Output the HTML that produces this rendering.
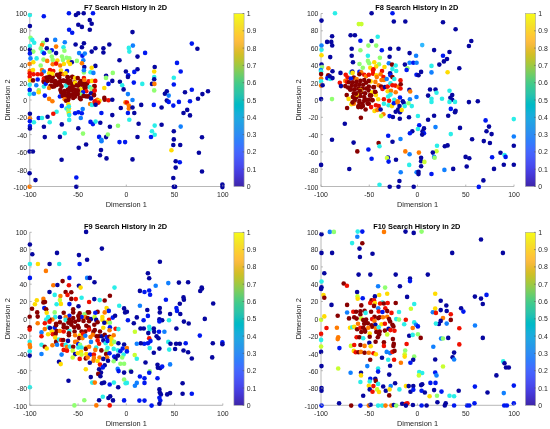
<!DOCTYPE html><html><head><meta charset="utf-8"><style>html,body{margin:0;padding:0;background:#fff;}svg{display:block;}text{font-family:"Liberation Sans",Arial,sans-serif;}</style></head><body>
<svg width="550" height="429" viewBox="0 0 550 429">
<defs><linearGradient id="par" x1="0" y1="1" x2="0" y2="0">
<stop offset="0.0000" stop-color="#3e26a8"/>
<stop offset="0.0159" stop-color="#402ab4"/>
<stop offset="0.0317" stop-color="#422ec0"/>
<stop offset="0.0476" stop-color="#4332cb"/>
<stop offset="0.0635" stop-color="#4537d5"/>
<stop offset="0.0794" stop-color="#463cde"/>
<stop offset="0.0952" stop-color="#4741e5"/>
<stop offset="0.1111" stop-color="#4747eb"/>
<stop offset="0.1270" stop-color="#484df0"/>
<stop offset="0.1429" stop-color="#4852f4"/>
<stop offset="0.1587" stop-color="#4758f8"/>
<stop offset="0.1746" stop-color="#465efb"/>
<stop offset="0.1905" stop-color="#4563fd"/>
<stop offset="0.2063" stop-color="#4269fe"/>
<stop offset="0.2222" stop-color="#3e6fff"/>
<stop offset="0.2381" stop-color="#3875fe"/>
<stop offset="0.2540" stop-color="#327cfc"/>
<stop offset="0.2698" stop-color="#2f81fa"/>
<stop offset="0.2857" stop-color="#2e87f7"/>
<stop offset="0.3016" stop-color="#2d8cf3"/>
<stop offset="0.3175" stop-color="#2b91ef"/>
<stop offset="0.3333" stop-color="#2797eb"/>
<stop offset="0.3492" stop-color="#259be8"/>
<stop offset="0.3651" stop-color="#23a0e5"/>
<stop offset="0.3810" stop-color="#20a5e3"/>
<stop offset="0.3968" stop-color="#1ca9df"/>
<stop offset="0.4127" stop-color="#18addb"/>
<stop offset="0.4286" stop-color="#12b1d6"/>
<stop offset="0.4444" stop-color="#08b5d0"/>
<stop offset="0.4603" stop-color="#01b8ca"/>
<stop offset="0.4762" stop-color="#02bac3"/>
<stop offset="0.4921" stop-color="#0bbdbd"/>
<stop offset="0.5079" stop-color="#19bfb6"/>
<stop offset="0.5238" stop-color="#24c1ae"/>
<stop offset="0.5397" stop-color="#2cc4a7"/>
<stop offset="0.5556" stop-color="#31c69f"/>
<stop offset="0.5714" stop-color="#37c897"/>
<stop offset="0.5873" stop-color="#3fca8e"/>
<stop offset="0.6032" stop-color="#4acb84"/>
<stop offset="0.6190" stop-color="#57cc7a"/>
<stop offset="0.6349" stop-color="#64cd6f"/>
<stop offset="0.6508" stop-color="#72cd64"/>
<stop offset="0.6667" stop-color="#81cc59"/>
<stop offset="0.6825" stop-color="#8fcb4e"/>
<stop offset="0.6984" stop-color="#9dc943"/>
<stop offset="0.7143" stop-color="#abc739"/>
<stop offset="0.7302" stop-color="#b9c431"/>
<stop offset="0.7460" stop-color="#c5c22a"/>
<stop offset="0.7619" stop-color="#d1bf27"/>
<stop offset="0.7778" stop-color="#dcbd29"/>
<stop offset="0.7937" stop-color="#e6bb2d"/>
<stop offset="0.8095" stop-color="#f0ba36"/>
<stop offset="0.8254" stop-color="#f8ba3d"/>
<stop offset="0.8413" stop-color="#febe3c"/>
<stop offset="0.8571" stop-color="#fec338"/>
<stop offset="0.8730" stop-color="#fec934"/>
<stop offset="0.8889" stop-color="#fccf30"/>
<stop offset="0.9048" stop-color="#fad62d"/>
<stop offset="0.9206" stop-color="#f7dc2a"/>
<stop offset="0.9365" stop-color="#f5e327"/>
<stop offset="0.9524" stop-color="#f5e924"/>
<stop offset="0.9683" stop-color="#f6ef20"/>
<stop offset="0.9841" stop-color="#f7f51b"/>
<stop offset="1.0000" stop-color="#f9fb15"/>
</linearGradient></defs>
<rect width="550" height="429" fill="#fff"/>
<path d="M29.80 13.50V186.50H222.80" fill="none" stroke="#a6a6a6" stroke-width="0.8"/>
<g><circle cx="44.7" cy="78.2" r="2.3" fill="#880000"/><circle cx="48.7" cy="77.6" r="2.3" fill="#880000"/><circle cx="52.8" cy="77.1" r="2.3" fill="#880000"/><circle cx="57.5" cy="75.3" r="2.3" fill="#880000"/><circle cx="60.9" cy="74.1" r="2.3" fill="#880000"/><circle cx="59.2" cy="77.6" r="2.3" fill="#880000"/><circle cx="67.9" cy="77.6" r="2.3" fill="#880000"/><circle cx="72.6" cy="77.1" r="2.3" fill="#880000"/><circle cx="47.0" cy="81.1" r="2.3" fill="#880000"/><circle cx="51.6" cy="81.1" r="2.3" fill="#880000"/><circle cx="55.1" cy="81.1" r="2.3" fill="#880000"/><circle cx="58.6" cy="82.3" r="2.3" fill="#880000"/><circle cx="63.3" cy="80.5" r="2.3" fill="#880000"/><circle cx="66.8" cy="81.1" r="2.3" fill="#880000"/><circle cx="70.3" cy="81.1" r="2.3" fill="#880000"/><circle cx="74.9" cy="82.3" r="2.3" fill="#880000"/><circle cx="80.7" cy="81.1" r="2.3" fill="#880000"/><circle cx="84.2" cy="83.5" r="2.3" fill="#880000"/><circle cx="86.5" cy="83.5" r="2.3" fill="#880000"/><circle cx="43.5" cy="81.1" r="2.3" fill="#f01000"/><circle cx="50.5" cy="85.8" r="2.3" fill="#880000"/><circle cx="54.0" cy="86.4" r="2.3" fill="#880000"/><circle cx="57.5" cy="84.6" r="2.3" fill="#880000"/><circle cx="61.5" cy="86.4" r="2.3" fill="#880000"/><circle cx="66.8" cy="84.6" r="2.3" fill="#880000"/><circle cx="69.7" cy="87.5" r="2.3" fill="#880000"/><circle cx="73.7" cy="85.8" r="2.3" fill="#880000"/><circle cx="78.4" cy="85.8" r="2.3" fill="#880000"/><circle cx="81.9" cy="84.6" r="2.3" fill="#880000"/><circle cx="86.0" cy="86.4" r="2.3" fill="#880000"/><circle cx="94.7" cy="86.4" r="2.3" fill="#f01000"/><circle cx="60.4" cy="89.9" r="2.3" fill="#880000"/><circle cx="64.4" cy="91.0" r="2.3" fill="#880000"/><circle cx="67.9" cy="89.3" r="2.3" fill="#880000"/><circle cx="71.4" cy="90.4" r="2.3" fill="#880000"/><circle cx="74.9" cy="89.9" r="2.3" fill="#880000"/><circle cx="78.4" cy="92.2" r="2.3" fill="#880000"/><circle cx="84.2" cy="88.1" r="2.3" fill="#880000"/><circle cx="62.1" cy="93.3" r="2.3" fill="#880000"/><circle cx="65.0" cy="95.1" r="2.3" fill="#880000"/><circle cx="68.5" cy="93.9" r="2.3" fill="#880000"/><circle cx="72.6" cy="94.5" r="2.3" fill="#880000"/><circle cx="77.2" cy="93.9" r="2.3" fill="#880000"/><circle cx="81.3" cy="95.7" r="2.3" fill="#880000"/><circle cx="85.4" cy="96.3" r="2.3" fill="#880000"/><circle cx="88.3" cy="96.3" r="2.3" fill="#880000"/><circle cx="80.7" cy="99.2" r="2.3" fill="#880000"/><circle cx="74.9" cy="96.8" r="2.3" fill="#880000"/><circle cx="69.1" cy="96.8" r="2.3" fill="#880000"/><circle cx="65.0" cy="96.8" r="2.3" fill="#880000"/><circle cx="67.9" cy="100.3" r="2.3" fill="#880000"/><circle cx="94.1" cy="95.1" r="2.3" fill="#880000"/><circle cx="94.7" cy="90.4" r="2.3" fill="#f01000"/><circle cx="95.3" cy="102.1" r="2.3" fill="#f01000"/><circle cx="98.2" cy="102.1" r="2.3" fill="#f01000"/><circle cx="29.9" cy="15.0" r="2.3" fill="#2aeee8"/><circle cx="43.8" cy="16.3" r="2.3" fill="#0018f0"/><circle cx="68.9" cy="13.2" r="2.3" fill="#0018f0"/><circle cx="75.9" cy="15.0" r="2.3" fill="#0606a0"/><circle cx="78.2" cy="13.2" r="2.3" fill="#0606a0"/><circle cx="83.7" cy="13.2" r="2.3" fill="#0606a0"/><circle cx="93.0" cy="13.2" r="2.3" fill="#0018f0"/><circle cx="89.8" cy="20.1" r="2.3" fill="#0606a0"/><circle cx="91.7" cy="23.8" r="2.3" fill="#0606a0"/><circle cx="78.3" cy="24.7" r="2.3" fill="#0606a0"/><circle cx="81.9" cy="26.9" r="2.3" fill="#0606a0"/><circle cx="29.9" cy="26.0" r="2.3" fill="#0606a0"/><circle cx="69.1" cy="29.7" r="2.3" fill="#0018f0"/><circle cx="72.2" cy="32.7" r="2.3" fill="#0018f0"/><circle cx="89.8" cy="29.7" r="2.3" fill="#0606a0"/><circle cx="30.5" cy="37.7" r="2.3" fill="#90ff70"/><circle cx="32.3" cy="39.9" r="2.3" fill="#2aeee8"/><circle cx="34.2" cy="42.7" r="2.3" fill="#2aeee8"/><circle cx="46.8" cy="39.9" r="2.3" fill="#0606a0"/><circle cx="55.2" cy="39.9" r="2.3" fill="#1080ff"/><circle cx="64.8" cy="42.3" r="2.3" fill="#1080ff"/><circle cx="43.1" cy="42.9" r="2.3" fill="#90ff70"/><circle cx="42.0" cy="45.1" r="2.3" fill="#ff7a00"/><circle cx="56.1" cy="46.6" r="2.3" fill="#ff7a00"/><circle cx="75.6" cy="44.5" r="2.3" fill="#0606a0"/><circle cx="83.9" cy="43.2" r="2.3" fill="#0606a0"/><circle cx="81.9" cy="47.3" r="2.3" fill="#0606a0"/><circle cx="109.3" cy="44.5" r="2.3" fill="#0606a0"/><circle cx="95.4" cy="48.2" r="2.3" fill="#0606a0"/><circle cx="103.4" cy="48.2" r="2.3" fill="#0606a0"/><circle cx="91.7" cy="51.6" r="2.3" fill="#0606a0"/><circle cx="103.4" cy="52.5" r="2.3" fill="#0606a0"/><circle cx="29.9" cy="46.0" r="2.3" fill="#2aeee8"/><circle cx="29.9" cy="49.7" r="2.3" fill="#0606a0"/><circle cx="40.7" cy="48.4" r="2.3" fill="#90ff70"/><circle cx="46.8" cy="48.2" r="2.3" fill="#0606a0"/><circle cx="51.8" cy="50.3" r="2.3" fill="#0018f0"/><circle cx="63.5" cy="47.3" r="2.3" fill="#2aeee8"/><circle cx="64.4" cy="50.7" r="2.3" fill="#90ff70"/><circle cx="42.5" cy="52.0" r="2.3" fill="#2aeee8"/><circle cx="44.0" cy="53.3" r="2.3" fill="#0018f0"/><circle cx="49.6" cy="51.8" r="2.3" fill="#90ff70"/><circle cx="56.1" cy="53.1" r="2.3" fill="#0606a0"/><circle cx="33.3" cy="51.6" r="2.3" fill="#90ff70"/><circle cx="29.9" cy="53.4" r="2.3" fill="#0018f0"/><circle cx="79.1" cy="53.1" r="2.3" fill="#1080ff"/><circle cx="82.4" cy="55.8" r="2.3" fill="#0018f0"/><circle cx="84.8" cy="53.6" r="2.3" fill="#1080ff"/><circle cx="30.5" cy="58.4" r="2.3" fill="#1080ff"/><circle cx="36.6" cy="58.4" r="2.3" fill="#2aeee8"/><circle cx="51.8" cy="56.6" r="2.3" fill="#90ff70"/><circle cx="62.0" cy="56.6" r="2.3" fill="#90ff70"/><circle cx="66.7" cy="57.7" r="2.3" fill="#90ff70"/><circle cx="69.4" cy="58.4" r="2.3" fill="#90ff70"/><circle cx="43.5" cy="59.6" r="2.3" fill="#90ff70"/><circle cx="47.2" cy="60.9" r="2.3" fill="#ff7a00"/><circle cx="52.7" cy="59.9" r="2.3" fill="#90ff70"/><circle cx="57.4" cy="60.5" r="2.3" fill="#ffdc00"/><circle cx="62.9" cy="59.9" r="2.3" fill="#90ff70"/><circle cx="68.5" cy="61.8" r="2.3" fill="#ffdc00"/><circle cx="71.8" cy="62.2" r="2.3" fill="#0606a0"/><circle cx="76.9" cy="60.9" r="2.3" fill="#90ff70"/><circle cx="83.3" cy="60.3" r="2.3" fill="#1080ff"/><circle cx="119.5" cy="60.3" r="2.3" fill="#0606a0"/><circle cx="33.3" cy="62.2" r="2.3" fill="#ffdc00"/><circle cx="29.6" cy="64.0" r="2.3" fill="#ff7a00"/><circle cx="40.7" cy="65.5" r="2.3" fill="#90ff70"/><circle cx="52.7" cy="64.2" r="2.3" fill="#ff7a00"/><circle cx="56.1" cy="63.6" r="2.3" fill="#f01000"/><circle cx="60.2" cy="65.5" r="2.3" fill="#ff7a00"/><circle cx="63.9" cy="64.0" r="2.3" fill="#ffdc00"/><circle cx="70.0" cy="64.0" r="2.3" fill="#ffdc00"/><circle cx="81.9" cy="63.3" r="2.3" fill="#ff7a00"/><circle cx="84.3" cy="67.0" r="2.3" fill="#0606a0"/><circle cx="95.4" cy="65.9" r="2.3" fill="#0606a0"/><circle cx="91.7" cy="67.7" r="2.3" fill="#ffdc00"/><circle cx="132.5" cy="32.1" r="2.3" fill="#0606a0"/><circle cx="132.9" cy="45.6" r="2.3" fill="#1080ff"/><circle cx="128.8" cy="47.9" r="2.3" fill="#2aeee8"/><circle cx="129.3" cy="51.6" r="2.3" fill="#2aeee8"/><circle cx="145.1" cy="52.9" r="2.3" fill="#0018f0"/><circle cx="137.5" cy="56.6" r="2.3" fill="#0606a0"/><circle cx="191.8" cy="43.6" r="2.3" fill="#0018f0"/><circle cx="197.4" cy="48.8" r="2.3" fill="#0606a0"/><circle cx="177.0" cy="62.9" r="2.3" fill="#0018f0"/><circle cx="154.7" cy="67.0" r="2.3" fill="#0606a0"/><circle cx="137.5" cy="69.2" r="2.3" fill="#0606a0"/><circle cx="29.7" cy="71.0" r="2.3" fill="#ff7a00"/><circle cx="33.0" cy="70.0" r="2.3" fill="#ffdc00"/><circle cx="42.0" cy="70.0" r="2.3" fill="#ff7a00"/><circle cx="43.9" cy="71.5" r="2.3" fill="#1080ff"/><circle cx="50.0" cy="70.0" r="2.3" fill="#f01000"/><circle cx="53.3" cy="71.0" r="2.3" fill="#f01000"/><circle cx="49.1" cy="73.3" r="2.3" fill="#ffdc00"/><circle cx="52.4" cy="73.8" r="2.3" fill="#ffdc00"/><circle cx="60.9" cy="70.5" r="2.3" fill="#ffdc00"/><circle cx="67.0" cy="71.0" r="2.3" fill="#0018f0"/><circle cx="29.7" cy="73.3" r="2.3" fill="#f01000"/><circle cx="33.5" cy="74.3" r="2.3" fill="#f01000"/><circle cx="37.7" cy="74.3" r="2.3" fill="#f01000"/><circle cx="41.5" cy="74.3" r="2.3" fill="#f01000"/><circle cx="29.7" cy="76.7" r="2.3" fill="#f01000"/><circle cx="30.1" cy="80.4" r="2.3" fill="#ffdc00"/><circle cx="33.0" cy="80.4" r="2.3" fill="#880000"/><circle cx="37.7" cy="79.5" r="2.3" fill="#0018f0"/><circle cx="43.9" cy="78.5" r="2.3" fill="#f01000"/><circle cx="43.9" cy="81.9" r="2.3" fill="#880000"/><circle cx="46.7" cy="77.6" r="2.3" fill="#880000"/><circle cx="49.5" cy="76.7" r="2.3" fill="#880000"/><circle cx="57.1" cy="74.8" r="2.3" fill="#880000"/><circle cx="60.4" cy="73.8" r="2.3" fill="#880000"/><circle cx="63.7" cy="74.3" r="2.3" fill="#ff7a00"/><circle cx="65.6" cy="73.3" r="2.3" fill="#ffdc00"/><circle cx="67.5" cy="77.1" r="2.3" fill="#880000"/><circle cx="72.2" cy="76.7" r="2.3" fill="#880000"/><circle cx="75.1" cy="78.1" r="2.3" fill="#ffdc00"/><circle cx="29.7" cy="84.7" r="2.3" fill="#2aeee8"/><circle cx="36.3" cy="85.2" r="2.3" fill="#1080ff"/><circle cx="43.9" cy="86.6" r="2.3" fill="#2aeee8"/><circle cx="45.7" cy="83.7" r="2.3" fill="#0018f0"/><circle cx="49.1" cy="88.0" r="2.3" fill="#ff7a00"/><circle cx="47.6" cy="80.9" r="2.3" fill="#880000"/><circle cx="51.4" cy="80.4" r="2.3" fill="#880000"/><circle cx="54.3" cy="81.9" r="2.3" fill="#880000"/><circle cx="52.4" cy="86.6" r="2.3" fill="#880000"/><circle cx="55.7" cy="85.2" r="2.3" fill="#880000"/><circle cx="59.9" cy="83.7" r="2.3" fill="#880000"/><circle cx="60.9" cy="80.9" r="2.3" fill="#880000"/><circle cx="63.7" cy="80.9" r="2.3" fill="#880000"/><circle cx="66.1" cy="85.6" r="2.3" fill="#2aeee8"/><circle cx="68.4" cy="82.8" r="2.3" fill="#880000"/><circle cx="71.3" cy="83.7" r="2.3" fill="#880000"/><circle cx="72.2" cy="87.1" r="2.3" fill="#880000"/><circle cx="75.1" cy="82.8" r="2.3" fill="#ffdc00"/><circle cx="29.7" cy="89.9" r="2.3" fill="#0018f0"/><circle cx="38.7" cy="90.4" r="2.3" fill="#90ff70"/><circle cx="38.7" cy="92.3" r="2.3" fill="#ffdc00"/><circle cx="29.7" cy="94.1" r="2.3" fill="#2aeee8"/><circle cx="33.9" cy="93.7" r="2.3" fill="#1080ff"/><circle cx="44.8" cy="95.6" r="2.3" fill="#0018f0"/><circle cx="59.9" cy="96.5" r="2.3" fill="#0018f0"/><circle cx="61.3" cy="92.3" r="2.3" fill="#880000"/><circle cx="64.7" cy="92.3" r="2.3" fill="#880000"/><circle cx="68.4" cy="90.4" r="2.3" fill="#880000"/><circle cx="62.8" cy="96.0" r="2.3" fill="#880000"/><circle cx="66.5" cy="96.0" r="2.3" fill="#880000"/><circle cx="70.3" cy="95.1" r="2.3" fill="#880000"/><circle cx="74.1" cy="93.2" r="2.3" fill="#880000"/><circle cx="73.2" cy="97.9" r="2.3" fill="#880000"/><circle cx="68.4" cy="98.9" r="2.3" fill="#880000"/><circle cx="49.1" cy="98.9" r="2.3" fill="#ff7a00"/><circle cx="64.7" cy="99.3" r="2.3" fill="#ff7a00"/><circle cx="52.4" cy="101.2" r="2.3" fill="#ff7a00"/><circle cx="66.1" cy="100.8" r="2.3" fill="#880000"/><circle cx="83.9" cy="72.4" r="2.3" fill="#90ff70"/><circle cx="83.9" cy="70.3" r="2.3" fill="#1080ff"/><circle cx="90.5" cy="72.2" r="2.3" fill="#2aeee8"/><circle cx="93.4" cy="72.9" r="2.3" fill="#1080ff"/><circle cx="106.1" cy="75.7" r="2.3" fill="#0606a0"/><circle cx="106.0" cy="77.9" r="2.3" fill="#90ff70"/><circle cx="112.8" cy="72.9" r="2.3" fill="#90ff70"/><circle cx="112.3" cy="80.9" r="2.3" fill="#0606a0"/><circle cx="108.5" cy="83.9" r="2.3" fill="#0018f0"/><circle cx="119.9" cy="81.7" r="2.3" fill="#0606a0"/><circle cx="122.2" cy="85.2" r="2.3" fill="#2aeee8"/><circle cx="123.6" cy="89.4" r="2.3" fill="#0606a0"/><circle cx="77.8" cy="78.1" r="2.3" fill="#880000"/><circle cx="83.9" cy="78.1" r="2.3" fill="#f01000"/><circle cx="84.4" cy="80.0" r="2.3" fill="#ff7a00"/><circle cx="88.7" cy="81.4" r="2.3" fill="#f01000"/><circle cx="92.0" cy="80.9" r="2.3" fill="#ffdc00"/><circle cx="95.3" cy="80.9" r="2.3" fill="#f01000"/><circle cx="79.7" cy="82.8" r="2.3" fill="#880000"/><circle cx="83.5" cy="84.2" r="2.3" fill="#880000"/><circle cx="86.8" cy="84.7" r="2.3" fill="#880000"/><circle cx="76.8" cy="85.2" r="2.3" fill="#880000"/><circle cx="94.3" cy="86.1" r="2.3" fill="#880000"/><circle cx="89.6" cy="87.1" r="2.3" fill="#2aeee8"/><circle cx="91.5" cy="88.9" r="2.3" fill="#90ff70"/><circle cx="80.6" cy="89.4" r="2.3" fill="#ffdc00"/><circle cx="85.3" cy="88.0" r="2.3" fill="#880000"/><circle cx="86.3" cy="91.3" r="2.3" fill="#f01000"/><circle cx="77.8" cy="90.4" r="2.3" fill="#880000"/><circle cx="83.0" cy="92.3" r="2.3" fill="#0018f0"/><circle cx="94.3" cy="90.8" r="2.3" fill="#f01000"/><circle cx="91.0" cy="93.2" r="2.3" fill="#0606a0"/><circle cx="93.9" cy="95.1" r="2.3" fill="#880000"/><circle cx="80.6" cy="94.6" r="2.3" fill="#90ff70"/><circle cx="77.8" cy="94.1" r="2.3" fill="#880000"/><circle cx="83.5" cy="96.0" r="2.3" fill="#880000"/><circle cx="87.2" cy="96.5" r="2.3" fill="#880000"/><circle cx="91.0" cy="98.4" r="2.3" fill="#0606a0"/><circle cx="79.7" cy="97.9" r="2.3" fill="#880000"/><circle cx="104.3" cy="97.9" r="2.3" fill="#880000"/><circle cx="104.7" cy="99.8" r="2.3" fill="#880000"/><circle cx="97.2" cy="99.8" r="2.3" fill="#ff7a00"/><circle cx="94.8" cy="101.2" r="2.3" fill="#f01000"/><circle cx="108.5" cy="100.3" r="2.3" fill="#f01000"/><circle cx="112.3" cy="99.8" r="2.3" fill="#0606a0"/><circle cx="99.5" cy="100.8" r="2.3" fill="#ffdc00"/><circle cx="125.9" cy="71.5" r="2.3" fill="#0606a0"/><circle cx="104.3" cy="88.0" r="2.3" fill="#ffdc00"/><circle cx="68.4" cy="104.3" r="2.3" fill="#ffdc00"/><circle cx="61.8" cy="105.9" r="2.3" fill="#0018f0"/><circle cx="66.5" cy="108.5" r="2.3" fill="#2aeee8"/><circle cx="68.9" cy="108.5" r="2.3" fill="#ffdc00"/><circle cx="68.9" cy="106.6" r="2.3" fill="#2aeee8"/><circle cx="68.4" cy="111.3" r="2.3" fill="#90ff70"/><circle cx="68.9" cy="113.7" r="2.3" fill="#ffdc00"/><circle cx="69.2" cy="115.1" r="2.3" fill="#2aeee8"/><circle cx="69.2" cy="119.9" r="2.3" fill="#2aeee8"/><circle cx="75.1" cy="113.2" r="2.3" fill="#0018f0"/><circle cx="56.6" cy="111.8" r="2.3" fill="#2aeee8"/><circle cx="53.3" cy="113.7" r="2.3" fill="#f01000"/><circle cx="29.9" cy="113.7" r="2.3" fill="#0606a0"/><circle cx="29.9" cy="118.2" r="2.3" fill="#ff7a00"/><circle cx="29.9" cy="121.3" r="2.3" fill="#0018f0"/><circle cx="33.9" cy="122.2" r="2.3" fill="#2aeee8"/><circle cx="38.7" cy="118.0" r="2.3" fill="#0018f0"/><circle cx="42.0" cy="118.0" r="2.3" fill="#2aeee8"/><circle cx="47.6" cy="116.8" r="2.3" fill="#0606a0"/><circle cx="49.7" cy="122.2" r="2.3" fill="#2aeee8"/><circle cx="29.9" cy="126.0" r="2.3" fill="#0018f0"/><circle cx="29.9" cy="128.4" r="2.3" fill="#0606a0"/><circle cx="43.9" cy="126.8" r="2.3" fill="#0606a0"/><circle cx="61.8" cy="124.4" r="2.3" fill="#0606a0"/><circle cx="64.7" cy="133.3" r="2.3" fill="#2aeee8"/><circle cx="44.8" cy="137.1" r="2.3" fill="#0606a0"/><circle cx="59.9" cy="136.9" r="2.3" fill="#0606a0"/><circle cx="90.1" cy="104.0" r="2.3" fill="#ff7a00"/><circle cx="92.0" cy="104.9" r="2.3" fill="#2aeee8"/><circle cx="94.8" cy="102.6" r="2.3" fill="#f01000"/><circle cx="98.4" cy="102.6" r="2.3" fill="#f01000"/><circle cx="95.6" cy="104.7" r="2.3" fill="#0606a0"/><circle cx="125.5" cy="102.4" r="2.3" fill="#ff7a00"/><circle cx="120.8" cy="108.0" r="2.3" fill="#0606a0"/><circle cx="82.7" cy="109.0" r="2.3" fill="#1080ff"/><circle cx="78.4" cy="112.3" r="2.3" fill="#0018f0"/><circle cx="81.8" cy="113.2" r="2.3" fill="#0018f0"/><circle cx="80.8" cy="118.0" r="2.3" fill="#1080ff"/><circle cx="101.4" cy="113.0" r="2.3" fill="#0018f0"/><circle cx="112.3" cy="115.1" r="2.3" fill="#0606a0"/><circle cx="90.5" cy="121.9" r="2.3" fill="#0018f0"/><circle cx="92.9" cy="124.1" r="2.3" fill="#0018f0"/><circle cx="95.6" cy="121.6" r="2.3" fill="#2aeee8"/><circle cx="100.3" cy="122.7" r="2.3" fill="#0606a0"/><circle cx="78.3" cy="128.2" r="2.3" fill="#0606a0"/><circle cx="109.9" cy="126.8" r="2.3" fill="#0606a0"/><circle cx="118.0" cy="125.7" r="2.3" fill="#90ff70"/><circle cx="83.0" cy="133.6" r="2.3" fill="#90ff70"/><circle cx="99.1" cy="136.9" r="2.3" fill="#0018f0"/><circle cx="106.1" cy="137.1" r="2.3" fill="#0606a0"/><circle cx="107.8" cy="134.5" r="2.3" fill="#90ff70"/><circle cx="101.4" cy="139.7" r="2.3" fill="#1080ff"/><circle cx="128.2" cy="75.2" r="2.3" fill="#0018f0"/><circle cx="127.9" cy="77.0" r="2.3" fill="#0606a0"/><circle cx="134.3" cy="71.9" r="2.3" fill="#0018f0"/><circle cx="154.2" cy="71.5" r="2.3" fill="#ffdc00"/><circle cx="154.2" cy="77.0" r="2.3" fill="#2aeee8"/><circle cx="154.2" cy="79.3" r="2.3" fill="#0606a0"/><circle cx="152.0" cy="83.9" r="2.3" fill="#0606a0"/><circle cx="154.4" cy="83.9" r="2.3" fill="#ff7a00"/><circle cx="154.2" cy="90.4" r="2.3" fill="#90ff70"/><circle cx="180.7" cy="71.5" r="2.3" fill="#0018f0"/><circle cx="173.8" cy="77.8" r="2.3" fill="#2aeee8"/><circle cx="173.8" cy="84.5" r="2.3" fill="#0018f0"/><circle cx="133.8" cy="82.6" r="2.3" fill="#0018f0"/><circle cx="142.3" cy="83.9" r="2.3" fill="#2aeee8"/><circle cx="127.9" cy="94.1" r="2.3" fill="#1080ff"/><circle cx="132.5" cy="100.0" r="2.3" fill="#1080ff"/><circle cx="126.9" cy="102.5" r="2.3" fill="#f01000"/><circle cx="128.8" cy="105.6" r="2.3" fill="#ff7a00"/><circle cx="128.8" cy="108.6" r="2.3" fill="#ff7a00"/><circle cx="132.5" cy="107.5" r="2.3" fill="#0606a0"/><circle cx="141.2" cy="104.9" r="2.3" fill="#0606a0"/><circle cx="153.8" cy="104.9" r="2.3" fill="#0018f0"/><circle cx="161.6" cy="107.5" r="2.3" fill="#0606a0"/><circle cx="164.9" cy="93.7" r="2.3" fill="#0606a0"/><circle cx="166.8" cy="91.3" r="2.3" fill="#0606a0"/><circle cx="168.7" cy="95.6" r="2.3" fill="#1080ff"/><circle cx="166.8" cy="100.6" r="2.3" fill="#0606a0"/><circle cx="168.7" cy="101.9" r="2.3" fill="#0018f0"/><circle cx="173.3" cy="105.6" r="2.3" fill="#0018f0"/><circle cx="178.9" cy="101.9" r="2.3" fill="#0018f0"/><circle cx="185.0" cy="92.3" r="2.3" fill="#0606a0"/><circle cx="191.8" cy="89.8" r="2.3" fill="#0018f0"/><circle cx="190.0" cy="101.2" r="2.3" fill="#0018f0"/><circle cx="198.0" cy="98.7" r="2.3" fill="#0606a0"/><circle cx="202.4" cy="94.1" r="2.3" fill="#0606a0"/><circle cx="208.0" cy="91.3" r="2.3" fill="#0606a0"/><circle cx="187.2" cy="109.9" r="2.3" fill="#0606a0"/><circle cx="183.5" cy="113.0" r="2.3" fill="#0606a0"/><circle cx="190.0" cy="115.4" r="2.3" fill="#0606a0"/><circle cx="127.9" cy="113.0" r="2.3" fill="#0018f0"/><circle cx="134.3" cy="113.0" r="2.3" fill="#0606a0"/><circle cx="129.3" cy="119.7" r="2.3" fill="#2aeee8"/><circle cx="138.6" cy="123.8" r="2.3" fill="#0606a0"/><circle cx="154.7" cy="125.6" r="2.3" fill="#2aeee8"/><circle cx="161.6" cy="124.7" r="2.3" fill="#0606a0"/><circle cx="180.7" cy="126.6" r="2.3" fill="#1080ff"/><circle cx="173.8" cy="131.2" r="2.3" fill="#0606a0"/><circle cx="152.0" cy="131.2" r="2.3" fill="#2aeee8"/><circle cx="101.5" cy="141.2" r="2.3" fill="#1080ff"/><circle cx="119.5" cy="142.1" r="2.3" fill="#0018f0"/><circle cx="125.1" cy="142.1" r="2.3" fill="#0018f0"/><circle cx="29.6" cy="151.5" r="2.3" fill="#0606a0"/><circle cx="32.9" cy="151.5" r="2.3" fill="#0606a0"/><circle cx="78.7" cy="147.8" r="2.3" fill="#0606a0"/><circle cx="86.1" cy="144.5" r="2.3" fill="#0606a0"/><circle cx="101.0" cy="150.1" r="2.3" fill="#0606a0"/><circle cx="100.0" cy="155.2" r="2.3" fill="#0606a0"/><circle cx="106.5" cy="158.4" r="2.3" fill="#0606a0"/><circle cx="61.6" cy="159.7" r="2.3" fill="#0606a0"/><circle cx="29.6" cy="173.2" r="2.3" fill="#0606a0"/><circle cx="35.5" cy="180.1" r="2.3" fill="#0606a0"/><circle cx="76.3" cy="177.5" r="2.3" fill="#0018f0"/><circle cx="76.3" cy="186.8" r="2.3" fill="#0606a0"/><circle cx="29.6" cy="186.8" r="2.3" fill="#ff7a00"/><circle cx="154.7" cy="134.8" r="2.3" fill="#2aeee8"/><circle cx="137.5" cy="137.0" r="2.3" fill="#0606a0"/><circle cx="151.0" cy="137.0" r="2.3" fill="#0018f0"/><circle cx="173.8" cy="139.4" r="2.3" fill="#0606a0"/><circle cx="173.3" cy="145.0" r="2.3" fill="#0606a0"/><circle cx="180.2" cy="145.0" r="2.3" fill="#0606a0"/><circle cx="171.4" cy="150.2" r="2.3" fill="#ffdc00"/><circle cx="202.0" cy="137.2" r="2.3" fill="#0606a0"/><circle cx="198.9" cy="152.8" r="2.3" fill="#0606a0"/><circle cx="132.5" cy="159.4" r="2.3" fill="#0606a0"/><circle cx="175.7" cy="161.3" r="2.3" fill="#0606a0"/><circle cx="179.8" cy="162.2" r="2.3" fill="#0018f0"/><circle cx="175.7" cy="167.6" r="2.3" fill="#0606a0"/><circle cx="202.0" cy="171.5" r="2.3" fill="#0606a0"/><circle cx="173.3" cy="178.0" r="2.3" fill="#0606a0"/><circle cx="173.8" cy="186.7" r="2.3" fill="#0606a0"/><circle cx="175.1" cy="186.7" r="2.3" fill="#0606a0"/><circle cx="222.4" cy="184.5" r="2.3" fill="#0606a0"/><circle cx="222.4" cy="187.1" r="2.3" fill="#0606a0"/></g>
<path d="M29.80 186.50h1.9M29.80 169.20h1.9M29.80 151.90h1.9M29.80 134.60h1.9M29.80 117.30h1.9M29.80 100.00h1.9M29.80 82.70h1.9M29.80 65.40h1.9M29.80 48.10h1.9M29.80 30.80h1.9M29.80 13.50h1.9M29.80 186.50v-1.9M78.05 186.50v-1.9M126.30 186.50v-1.9M174.55 186.50v-1.9M222.80 186.50v-1.9" stroke="#a6a6a6" stroke-width="0.8"/>
<text x="27.20" y="189.90" font-size="6.90" fill="#262626" text-anchor="end">-100</text>
<text x="27.20" y="172.51" font-size="6.90" fill="#262626" text-anchor="end">-80</text>
<text x="27.20" y="155.12" font-size="6.90" fill="#262626" text-anchor="end">-60</text>
<text x="27.20" y="137.73" font-size="6.90" fill="#262626" text-anchor="end">-40</text>
<text x="27.20" y="120.34" font-size="6.90" fill="#262626" text-anchor="end">-20</text>
<text x="27.20" y="102.95" font-size="6.90" fill="#262626" text-anchor="end">0</text>
<text x="27.20" y="85.56" font-size="6.90" fill="#262626" text-anchor="end">20</text>
<text x="27.20" y="68.17" font-size="6.90" fill="#262626" text-anchor="end">40</text>
<text x="27.20" y="50.78" font-size="6.90" fill="#262626" text-anchor="end">60</text>
<text x="27.20" y="33.39" font-size="6.90" fill="#262626" text-anchor="end">80</text>
<text x="27.20" y="16.00" font-size="6.90" fill="#262626" text-anchor="end">100</text>
<text x="29.80" y="196.80" font-size="6.90" fill="#262626" text-anchor="middle">-100</text>
<text x="78.05" y="196.80" font-size="6.90" fill="#262626" text-anchor="middle">-50</text>
<text x="126.30" y="196.80" font-size="6.90" fill="#262626" text-anchor="middle">0</text>
<text x="174.55" y="196.80" font-size="6.90" fill="#262626" text-anchor="middle">50</text>
<text x="222.80" y="196.80" font-size="6.90" fill="#262626" text-anchor="middle">100</text>
<text x="126.30" y="206.70" font-size="7.40" fill="#262626" text-anchor="middle">Dimension 1</text>
<text transform="translate(9.60 100.00) rotate(-90)" font-size="7.40" fill="#262626" text-anchor="middle">Dimension 2</text>
<text x="125.60" y="10.40" font-size="7.40" font-weight="bold" fill="#000" text-anchor="middle">F7 Search History in 2D</text>
<rect x="233.90" y="13.50" width="10.20" height="173.00" fill="url(#par)" stroke="#a6a6a6" stroke-width="0.6"/>
<path d="M244.10 186.50h-1.5M244.10 169.20h-1.5M244.10 151.90h-1.5M244.10 134.60h-1.5M244.10 117.30h-1.5M244.10 100.00h-1.5M244.10 82.70h-1.5M244.10 65.40h-1.5M244.10 48.10h-1.5M244.10 30.80h-1.5M244.10 13.50h-1.5" stroke="#555" stroke-width="0.6"/>
<text x="246.70" y="189.00" font-size="6.90" fill="#262626">0</text>
<text x="246.70" y="171.70" font-size="6.90" fill="#262626">0.1</text>
<text x="246.70" y="154.40" font-size="6.90" fill="#262626">0.2</text>
<text x="246.70" y="137.10" font-size="6.90" fill="#262626">0.3</text>
<text x="246.70" y="119.80" font-size="6.90" fill="#262626">0.4</text>
<text x="246.70" y="102.50" font-size="6.90" fill="#262626">0.5</text>
<text x="246.70" y="85.20" font-size="6.90" fill="#262626">0.6</text>
<text x="246.70" y="67.90" font-size="6.90" fill="#262626">0.7</text>
<text x="246.70" y="50.60" font-size="6.90" fill="#262626">0.8</text>
<text x="246.70" y="33.30" font-size="6.90" fill="#262626">0.9</text>
<text x="246.70" y="16.00" font-size="6.90" fill="#262626">1</text>
<path d="M321.00 13.50V186.50H514.00" fill="none" stroke="#a6a6a6" stroke-width="0.8"/>
<g><circle cx="335.0" cy="13.2" r="2.3" fill="#2aeee8"/><circle cx="371.6" cy="13.2" r="2.3" fill="#0606a0"/><circle cx="392.5" cy="13.2" r="2.3" fill="#0018f0"/><circle cx="321.5" cy="20.6" r="2.3" fill="#0606a0"/><circle cx="393.8" cy="21.5" r="2.3" fill="#0606a0"/><circle cx="405.3" cy="21.5" r="2.3" fill="#0606a0"/><circle cx="358.8" cy="24.1" r="2.3" fill="#c8ff30"/><circle cx="361.4" cy="24.1" r="2.3" fill="#c8ff30"/><circle cx="332.1" cy="36.2" r="2.3" fill="#0606a0"/><circle cx="350.6" cy="35.3" r="2.3" fill="#0606a0"/><circle cx="354.9" cy="35.3" r="2.3" fill="#0606a0"/><circle cx="377.7" cy="36.7" r="2.3" fill="#2aeee8"/><circle cx="327.1" cy="41.9" r="2.3" fill="#0606a0"/><circle cx="331.3" cy="41.9" r="2.3" fill="#0606a0"/><circle cx="332.2" cy="45.5" r="2.3" fill="#0606a0"/><circle cx="360.4" cy="40.8" r="2.3" fill="#0018f0"/><circle cx="371.6" cy="41.0" r="2.3" fill="#0606a0"/><circle cx="321.5" cy="45.6" r="2.3" fill="#1080ff"/><circle cx="321.5" cy="49.7" r="2.3" fill="#2aeee8"/><circle cx="321.5" cy="55.3" r="2.3" fill="#ffdc00"/><circle cx="368.4" cy="45.6" r="2.3" fill="#90ff70"/><circle cx="376.2" cy="45.6" r="2.3" fill="#90ff70"/><circle cx="351.7" cy="48.8" r="2.3" fill="#0606a0"/><circle cx="360.4" cy="50.3" r="2.3" fill="#90ff70"/><circle cx="381.8" cy="50.3" r="2.3" fill="#0018f0"/><circle cx="390.1" cy="48.8" r="2.3" fill="#0606a0"/><circle cx="398.5" cy="48.8" r="2.3" fill="#0606a0"/><circle cx="409.6" cy="53.1" r="2.3" fill="#0606a0"/><circle cx="416.1" cy="55.8" r="2.3" fill="#1080ff"/><circle cx="351.7" cy="55.8" r="2.3" fill="#0606a0"/><circle cx="367.9" cy="55.8" r="2.3" fill="#2aeee8"/><circle cx="379.9" cy="57.7" r="2.3" fill="#90ff70"/><circle cx="389.6" cy="56.8" r="2.3" fill="#0606a0"/><circle cx="330.2" cy="57.1" r="2.3" fill="#0606a0"/><circle cx="353.0" cy="62.3" r="2.3" fill="#0606a0"/><circle cx="359.5" cy="64.0" r="2.3" fill="#90ff70"/><circle cx="367.9" cy="60.9" r="2.3" fill="#90ff70"/><circle cx="369.2" cy="63.3" r="2.3" fill="#90ff70"/><circle cx="374.3" cy="62.3" r="2.3" fill="#ffdc00"/><circle cx="379.0" cy="64.2" r="2.3" fill="#90ff70"/><circle cx="388.8" cy="63.3" r="2.3" fill="#1080ff"/><circle cx="392.0" cy="64.6" r="2.3" fill="#880000"/><circle cx="395.7" cy="65.5" r="2.3" fill="#2aeee8"/><circle cx="404.9" cy="64.6" r="2.3" fill="#0606a0"/><circle cx="409.6" cy="62.7" r="2.3" fill="#1080ff"/><circle cx="413.3" cy="62.7" r="2.3" fill="#0018f0"/><circle cx="416.6" cy="62.7" r="2.3" fill="#1080ff"/><circle cx="321.5" cy="64.6" r="2.3" fill="#0606a0"/><circle cx="322.0" cy="67.0" r="2.3" fill="#90ff70"/><circle cx="328.4" cy="68.3" r="2.3" fill="#ff7a00"/><circle cx="362.8" cy="67.7" r="2.3" fill="#90ff70"/><circle cx="370.3" cy="67.7" r="2.3" fill="#ffdc00"/><circle cx="376.2" cy="66.4" r="2.3" fill="#ffdc00"/><circle cx="384.5" cy="67.0" r="2.3" fill="#ffdc00"/><circle cx="373.4" cy="69.2" r="2.3" fill="#f01000"/><circle cx="407.4" cy="68.3" r="2.3" fill="#90ff70"/><circle cx="443.0" cy="22.3" r="2.3" fill="#0606a0"/><circle cx="455.6" cy="29.3" r="2.3" fill="#0606a0"/><circle cx="471.3" cy="41.0" r="2.3" fill="#0606a0"/><circle cx="468.9" cy="46.0" r="2.3" fill="#0606a0"/><circle cx="422.2" cy="45.1" r="2.3" fill="#30b8ff"/><circle cx="434.1" cy="50.1" r="2.3" fill="#0606a0"/><circle cx="449.5" cy="52.0" r="2.3" fill="#0606a0"/><circle cx="443.0" cy="55.8" r="2.3" fill="#0018f0"/><circle cx="447.0" cy="59.0" r="2.3" fill="#0606a0"/><circle cx="443.9" cy="61.4" r="2.3" fill="#0606a0"/><circle cx="439.3" cy="64.6" r="2.3" fill="#0606a0"/><circle cx="431.5" cy="65.9" r="2.3" fill="#2aeee8"/><circle cx="459.3" cy="68.3" r="2.3" fill="#0606a0"/><circle cx="332.5" cy="71.3" r="2.3" fill="#0606a0"/><circle cx="320.9" cy="70.0" r="2.3" fill="#1080ff"/><circle cx="321.1" cy="71.5" r="2.3" fill="#2aeee8"/><circle cx="321.1" cy="74.1" r="2.3" fill="#880000"/><circle cx="321.1" cy="78.5" r="2.3" fill="#ff7a00"/><circle cx="321.1" cy="81.4" r="2.3" fill="#2aeee8"/><circle cx="321.1" cy="85.6" r="2.3" fill="#ff7a00"/><circle cx="322.6" cy="85.2" r="2.3" fill="#0606a0"/><circle cx="340.5" cy="72.9" r="2.3" fill="#0606a0"/><circle cx="328.2" cy="75.2" r="2.3" fill="#880000"/><circle cx="327.3" cy="78.1" r="2.3" fill="#0018f0"/><circle cx="330.1" cy="79.0" r="2.3" fill="#2aeee8"/><circle cx="332.5" cy="78.1" r="2.3" fill="#0606a0"/><circle cx="329.7" cy="76.2" r="2.3" fill="#0606a0"/><circle cx="345.7" cy="74.8" r="2.3" fill="#f01000"/><circle cx="347.6" cy="77.6" r="2.3" fill="#f01000"/><circle cx="345.3" cy="80.9" r="2.3" fill="#ff7a00"/><circle cx="347.1" cy="81.9" r="2.3" fill="#f01000"/><circle cx="339.8" cy="82.8" r="2.3" fill="#f01000"/><circle cx="341.0" cy="86.1" r="2.3" fill="#0606a0"/><circle cx="350.9" cy="72.4" r="2.3" fill="#2aeee8"/><circle cx="352.3" cy="71.5" r="2.3" fill="#0606a0"/><circle cx="352.6" cy="72.9" r="2.3" fill="#ffdc00"/><circle cx="359.4" cy="71.9" r="2.3" fill="#0018f0"/><circle cx="361.3" cy="72.4" r="2.3" fill="#ff7a00"/><circle cx="364.2" cy="74.8" r="2.3" fill="#f01000"/><circle cx="366.1" cy="76.2" r="2.3" fill="#ff7a00"/><circle cx="359.4" cy="74.3" r="2.3" fill="#880000"/><circle cx="353.8" cy="77.6" r="2.3" fill="#880000"/><circle cx="350.9" cy="78.5" r="2.3" fill="#0018f0"/><circle cx="356.6" cy="79.0" r="2.3" fill="#ff7a00"/><circle cx="349.0" cy="82.3" r="2.3" fill="#880000"/><circle cx="352.8" cy="82.3" r="2.3" fill="#880000"/><circle cx="356.6" cy="81.9" r="2.3" fill="#880000"/><circle cx="360.4" cy="80.9" r="2.3" fill="#880000"/><circle cx="364.2" cy="80.0" r="2.3" fill="#880000"/><circle cx="366.1" cy="82.8" r="2.3" fill="#880000"/><circle cx="345.3" cy="86.1" r="2.3" fill="#880000"/><circle cx="348.1" cy="87.5" r="2.3" fill="#880000"/><circle cx="351.9" cy="85.6" r="2.3" fill="#880000"/><circle cx="355.7" cy="85.6" r="2.3" fill="#880000"/><circle cx="359.4" cy="84.7" r="2.3" fill="#880000"/><circle cx="363.2" cy="84.7" r="2.3" fill="#880000"/><circle cx="350.9" cy="89.4" r="2.3" fill="#880000"/><circle cx="354.7" cy="89.4" r="2.3" fill="#880000"/><circle cx="358.5" cy="88.5" r="2.3" fill="#880000"/><circle cx="362.3" cy="88.5" r="2.3" fill="#880000"/><circle cx="366.1" cy="88.5" r="2.3" fill="#880000"/><circle cx="353.8" cy="93.2" r="2.3" fill="#880000"/><circle cx="357.5" cy="93.2" r="2.3" fill="#880000"/><circle cx="361.3" cy="92.3" r="2.3" fill="#880000"/><circle cx="365.1" cy="93.2" r="2.3" fill="#880000"/><circle cx="352.8" cy="97.0" r="2.3" fill="#880000"/><circle cx="356.6" cy="97.0" r="2.3" fill="#880000"/><circle cx="360.4" cy="96.0" r="2.3" fill="#880000"/><circle cx="364.2" cy="97.0" r="2.3" fill="#880000"/><circle cx="354.7" cy="100.8" r="2.3" fill="#880000"/><circle cx="359.4" cy="100.8" r="2.3" fill="#880000"/><circle cx="364.2" cy="100.8" r="2.3" fill="#880000"/><circle cx="366.5" cy="99.8" r="2.3" fill="#880000"/><circle cx="346.7" cy="95.1" r="2.3" fill="#880000"/><circle cx="356.6" cy="94.6" r="2.3" fill="#ffdc00"/><circle cx="360.4" cy="90.4" r="2.3" fill="#ffdc00"/><circle cx="348.6" cy="98.9" r="2.3" fill="#ffdc00"/><circle cx="332.0" cy="99.1" r="2.3" fill="#90ff70"/><circle cx="321.1" cy="99.1" r="2.3" fill="#0606a0"/><circle cx="373.0" cy="70.5" r="2.3" fill="#f01000"/><circle cx="382.0" cy="71.0" r="2.3" fill="#f01000"/><circle cx="392.4" cy="69.1" r="2.3" fill="#2aeee8"/><circle cx="396.2" cy="71.0" r="2.3" fill="#2aeee8"/><circle cx="406.6" cy="70.0" r="2.3" fill="#0018f0"/><circle cx="416.5" cy="74.8" r="2.3" fill="#0018f0"/><circle cx="368.8" cy="74.8" r="2.3" fill="#f01000"/><circle cx="373.0" cy="73.8" r="2.3" fill="#f01000"/><circle cx="376.3" cy="75.2" r="2.3" fill="#ffdc00"/><circle cx="376.8" cy="77.1" r="2.3" fill="#ff7a00"/><circle cx="380.6" cy="74.3" r="2.3" fill="#ff7a00"/><circle cx="383.4" cy="77.1" r="2.3" fill="#f01000"/><circle cx="381.5" cy="80.0" r="2.3" fill="#ff7a00"/><circle cx="383.9" cy="80.0" r="2.3" fill="#ff7a00"/><circle cx="386.7" cy="79.0" r="2.3" fill="#1080ff"/><circle cx="390.1" cy="73.3" r="2.3" fill="#0606a0"/><circle cx="390.5" cy="75.2" r="2.3" fill="#0018f0"/><circle cx="392.4" cy="77.1" r="2.3" fill="#880000"/><circle cx="394.3" cy="79.0" r="2.3" fill="#2aeee8"/><circle cx="375.4" cy="81.9" r="2.3" fill="#ff7a00"/><circle cx="370.7" cy="81.4" r="2.3" fill="#ffdc00"/><circle cx="368.8" cy="80.9" r="2.3" fill="#880000"/><circle cx="368.8" cy="86.6" r="2.3" fill="#880000"/><circle cx="368.8" cy="90.4" r="2.3" fill="#880000"/><circle cx="370.7" cy="95.1" r="2.3" fill="#880000"/><circle cx="368.8" cy="99.8" r="2.3" fill="#880000"/><circle cx="372.6" cy="100.3" r="2.3" fill="#880000"/><circle cx="374.0" cy="87.1" r="2.3" fill="#880000"/><circle cx="375.4" cy="92.3" r="2.3" fill="#880000"/><circle cx="372.1" cy="92.3" r="2.3" fill="#ffdc00"/><circle cx="375.9" cy="95.1" r="2.3" fill="#ffdc00"/><circle cx="371.1" cy="95.6" r="2.3" fill="#880000"/><circle cx="378.7" cy="85.2" r="2.3" fill="#ff7a00"/><circle cx="381.1" cy="86.6" r="2.3" fill="#880000"/><circle cx="382.5" cy="88.9" r="2.3" fill="#f01000"/><circle cx="384.9" cy="87.1" r="2.3" fill="#0606a0"/><circle cx="387.7" cy="86.6" r="2.3" fill="#f01000"/><circle cx="390.5" cy="83.3" r="2.3" fill="#2aeee8"/><circle cx="392.4" cy="85.2" r="2.3" fill="#f01000"/><circle cx="395.3" cy="85.6" r="2.3" fill="#f01000"/><circle cx="398.6" cy="87.1" r="2.3" fill="#ff7a00"/><circle cx="400.5" cy="80.4" r="2.3" fill="#f01000"/><circle cx="400.7" cy="84.2" r="2.3" fill="#880000"/><circle cx="400.5" cy="88.5" r="2.3" fill="#f01000"/><circle cx="387.7" cy="91.3" r="2.3" fill="#ffdc00"/><circle cx="391.0" cy="90.8" r="2.3" fill="#ff7a00"/><circle cx="395.7" cy="92.3" r="2.3" fill="#ff7a00"/><circle cx="390.5" cy="94.6" r="2.3" fill="#2aeee8"/><circle cx="388.2" cy="96.5" r="2.3" fill="#2aeee8"/><circle cx="383.9" cy="99.3" r="2.3" fill="#f01000"/><circle cx="389.1" cy="100.8" r="2.3" fill="#f01000"/><circle cx="394.3" cy="99.8" r="2.3" fill="#2aeee8"/><circle cx="397.6" cy="101.2" r="2.3" fill="#ff7a00"/><circle cx="400.0" cy="97.5" r="2.3" fill="#0018f0"/><circle cx="402.8" cy="101.2" r="2.3" fill="#0606a0"/><circle cx="409.4" cy="89.9" r="2.3" fill="#0606a0"/><circle cx="410.2" cy="91.5" r="2.3" fill="#ff7a00"/><circle cx="409.9" cy="99.3" r="2.3" fill="#1080ff"/><circle cx="416.5" cy="97.0" r="2.3" fill="#1080ff"/><circle cx="378.2" cy="99.3" r="2.3" fill="#ffdc00"/><circle cx="421.1" cy="71.9" r="2.3" fill="#0606a0"/><circle cx="418.5" cy="75.2" r="2.3" fill="#0606a0"/><circle cx="431.5" cy="72.4" r="2.3" fill="#1080ff"/><circle cx="447.6" cy="72.2" r="2.3" fill="#ffdc00"/><circle cx="430.0" cy="89.5" r="2.3" fill="#0606a0"/><circle cx="435.5" cy="89.5" r="2.3" fill="#0606a0"/><circle cx="436.5" cy="92.8" r="2.3" fill="#2aeee8"/><circle cx="428.1" cy="95.6" r="2.3" fill="#0606a0"/><circle cx="431.5" cy="98.7" r="2.3" fill="#2aeee8"/><circle cx="431.5" cy="101.9" r="2.3" fill="#2aeee8"/><circle cx="442.0" cy="98.7" r="2.3" fill="#2aeee8"/><circle cx="449.5" cy="90.8" r="2.3" fill="#2aeee8"/><circle cx="452.2" cy="95.0" r="2.3" fill="#0606a0"/><circle cx="450.4" cy="97.8" r="2.3" fill="#0606a0"/><circle cx="452.2" cy="99.7" r="2.3" fill="#0606a0"/><circle cx="449.5" cy="101.9" r="2.3" fill="#2aeee8"/><circle cx="455.0" cy="101.9" r="2.3" fill="#2aeee8"/><circle cx="468.9" cy="102.1" r="2.3" fill="#0606a0"/><circle cx="477.8" cy="101.2" r="2.3" fill="#0606a0"/><circle cx="450.8" cy="108.9" r="2.3" fill="#0018f0"/><circle cx="455.6" cy="110.8" r="2.3" fill="#0606a0"/><circle cx="455.0" cy="112.3" r="2.3" fill="#0606a0"/><circle cx="434.1" cy="115.8" r="2.3" fill="#0606a0"/><circle cx="448.2" cy="115.8" r="2.3" fill="#0606a0"/><circle cx="417.9" cy="116.0" r="2.3" fill="#2aeee8"/><circle cx="428.1" cy="119.7" r="2.3" fill="#0606a0"/><circle cx="485.6" cy="120.4" r="2.3" fill="#0018f0"/><circle cx="513.8" cy="119.1" r="2.3" fill="#2aeee8"/><circle cx="419.2" cy="125.3" r="2.3" fill="#0018f0"/><circle cx="424.0" cy="128.4" r="2.3" fill="#0606a0"/><circle cx="435.5" cy="127.1" r="2.3" fill="#1080ff"/><circle cx="460.0" cy="127.9" r="2.3" fill="#0606a0"/><circle cx="489.0" cy="126.6" r="2.3" fill="#0606a0"/><circle cx="417.9" cy="129.0" r="2.3" fill="#2aeee8"/><circle cx="422.6" cy="131.2" r="2.3" fill="#0606a0"/><circle cx="486.5" cy="131.2" r="2.3" fill="#0606a0"/><circle cx="347.1" cy="108.0" r="2.3" fill="#880000"/><circle cx="351.4" cy="104.3" r="2.3" fill="#ffdc00"/><circle cx="353.8" cy="103.8" r="2.3" fill="#ff7a00"/><circle cx="358.5" cy="106.1" r="2.3" fill="#880000"/><circle cx="361.3" cy="107.1" r="2.3" fill="#880000"/><circle cx="362.3" cy="103.8" r="2.3" fill="#880000"/><circle cx="359.4" cy="102.8" r="2.3" fill="#880000"/><circle cx="365.6" cy="109.5" r="2.3" fill="#880000"/><circle cx="360.9" cy="117.8" r="2.3" fill="#880000"/><circle cx="344.8" cy="123.8" r="2.3" fill="#0606a0"/><circle cx="332.0" cy="139.7" r="2.3" fill="#0606a0"/><circle cx="368.8" cy="103.8" r="2.3" fill="#880000"/><circle cx="371.1" cy="107.1" r="2.3" fill="#f01000"/><circle cx="375.9" cy="105.2" r="2.3" fill="#f01000"/><circle cx="378.7" cy="106.1" r="2.3" fill="#f01000"/><circle cx="374.5" cy="110.9" r="2.3" fill="#ffdc00"/><circle cx="377.3" cy="109.9" r="2.3" fill="#ff7a00"/><circle cx="380.6" cy="109.5" r="2.3" fill="#0606a0"/><circle cx="383.4" cy="114.2" r="2.3" fill="#ff7a00"/><circle cx="381.1" cy="116.1" r="2.3" fill="#c8ff30"/><circle cx="383.9" cy="103.8" r="2.3" fill="#2aeee8"/><circle cx="388.6" cy="105.2" r="2.3" fill="#2aeee8"/><circle cx="391.9" cy="106.1" r="2.3" fill="#ffdc00"/><circle cx="393.8" cy="103.3" r="2.3" fill="#0018f0"/><circle cx="397.6" cy="102.4" r="2.3" fill="#ff7a00"/><circle cx="399.5" cy="106.1" r="2.3" fill="#0606a0"/><circle cx="398.1" cy="109.5" r="2.3" fill="#0606a0"/><circle cx="395.7" cy="111.8" r="2.3" fill="#0606a0"/><circle cx="400.0" cy="112.3" r="2.3" fill="#0606a0"/><circle cx="401.7" cy="109.9" r="2.3" fill="#ffdc00"/><circle cx="403.6" cy="102.8" r="2.3" fill="#0606a0"/><circle cx="404.7" cy="106.1" r="2.3" fill="#2aeee8"/><circle cx="408.5" cy="103.3" r="2.3" fill="#90ff70"/><circle cx="411.8" cy="106.1" r="2.3" fill="#2aeee8"/><circle cx="389.6" cy="116.1" r="2.3" fill="#0018f0"/><circle cx="392.9" cy="117.0" r="2.3" fill="#0606a0"/><circle cx="399.8" cy="118.7" r="2.3" fill="#0606a0"/><circle cx="409.0" cy="117.3" r="2.3" fill="#0606a0"/><circle cx="412.3" cy="131.2" r="2.3" fill="#0606a0"/><circle cx="409.9" cy="133.3" r="2.3" fill="#0018f0"/><circle cx="388.2" cy="135.7" r="2.3" fill="#0018f0"/><circle cx="400.5" cy="139.0" r="2.3" fill="#1080ff"/><circle cx="353.6" cy="142.6" r="2.3" fill="#0606a0"/><circle cx="378.6" cy="143.0" r="2.3" fill="#880000"/><circle cx="379.5" cy="146.3" r="2.3" fill="#2aeee8"/><circle cx="392.5" cy="141.7" r="2.3" fill="#0606a0"/><circle cx="357.3" cy="151.4" r="2.3" fill="#880000"/><circle cx="368.4" cy="149.5" r="2.3" fill="#0018f0"/><circle cx="371.6" cy="158.8" r="2.3" fill="#0018f0"/><circle cx="387.9" cy="157.5" r="2.3" fill="#0606a0"/><circle cx="387.0" cy="158.0" r="2.3" fill="#c8ff30"/><circle cx="388.6" cy="161.6" r="2.3" fill="#0018f0"/><circle cx="396.0" cy="159.7" r="2.3" fill="#0606a0"/><circle cx="405.3" cy="151.4" r="2.3" fill="#ff7a00"/><circle cx="409.6" cy="154.3" r="2.3" fill="#1080ff"/><circle cx="409.2" cy="164.9" r="2.3" fill="#2aeee8"/><circle cx="321.1" cy="164.9" r="2.3" fill="#0606a0"/><circle cx="349.3" cy="169.0" r="2.3" fill="#0606a0"/><circle cx="400.7" cy="172.3" r="2.3" fill="#1080ff"/><circle cx="399.4" cy="181.0" r="2.3" fill="#0606a0"/><circle cx="379.5" cy="184.7" r="2.3" fill="#2aeee8"/><circle cx="389.7" cy="186.8" r="2.3" fill="#0606a0"/><circle cx="398.5" cy="186.8" r="2.3" fill="#0606a0"/><circle cx="413.7" cy="186.8" r="2.3" fill="#0606a0"/><circle cx="416.6" cy="172.3" r="2.3" fill="#1080ff"/><circle cx="424.0" cy="133.3" r="2.3" fill="#0018f0"/><circle cx="422.2" cy="134.6" r="2.3" fill="#0606a0"/><circle cx="450.8" cy="134.1" r="2.3" fill="#2aeee8"/><circle cx="491.6" cy="134.1" r="2.3" fill="#0606a0"/><circle cx="513.8" cy="136.5" r="2.3" fill="#1080ff"/><circle cx="472.1" cy="139.3" r="2.3" fill="#0606a0"/><circle cx="483.8" cy="141.1" r="2.3" fill="#0606a0"/><circle cx="489.9" cy="143.0" r="2.3" fill="#0606a0"/><circle cx="513.8" cy="145.8" r="2.3" fill="#0606a0"/><circle cx="437.0" cy="145.8" r="2.3" fill="#2aeee8"/><circle cx="444.8" cy="146.3" r="2.3" fill="#0606a0"/><circle cx="447.6" cy="145.4" r="2.3" fill="#0606a0"/><circle cx="436.5" cy="151.3" r="2.3" fill="#c8ff30"/><circle cx="432.8" cy="152.6" r="2.3" fill="#0606a0"/><circle cx="434.1" cy="156.9" r="2.3" fill="#1080ff"/><circle cx="434.6" cy="157.8" r="2.3" fill="#90ff70"/><circle cx="418.9" cy="152.6" r="2.3" fill="#ff7a00"/><circle cx="421.1" cy="157.8" r="2.3" fill="#0606a0"/><circle cx="421.1" cy="161.2" r="2.3" fill="#0606a0"/><circle cx="424.4" cy="161.9" r="2.3" fill="#c8ff30"/><circle cx="421.1" cy="166.2" r="2.3" fill="#0606a0"/><circle cx="418.5" cy="171.7" r="2.3" fill="#0606a0"/><circle cx="418.5" cy="174.1" r="2.3" fill="#0606a0"/><circle cx="431.5" cy="174.0" r="2.3" fill="#0018f0"/><circle cx="444.4" cy="169.9" r="2.3" fill="#1080ff"/><circle cx="453.2" cy="168.9" r="2.3" fill="#0606a0"/><circle cx="465.6" cy="156.9" r="2.3" fill="#0606a0"/><circle cx="469.3" cy="158.2" r="2.3" fill="#0606a0"/><circle cx="466.7" cy="166.5" r="2.3" fill="#0606a0"/><circle cx="492.1" cy="157.3" r="2.3" fill="#0018f0"/><circle cx="500.5" cy="152.8" r="2.3" fill="#0606a0"/><circle cx="504.5" cy="155.0" r="2.3" fill="#2aeee8"/><circle cx="505.6" cy="156.9" r="2.3" fill="#0018f0"/><circle cx="503.8" cy="164.7" r="2.3" fill="#0606a0"/><circle cx="513.8" cy="164.7" r="2.3" fill="#0606a0"/><circle cx="494.0" cy="168.9" r="2.3" fill="#0606a0"/><circle cx="483.4" cy="180.4" r="2.3" fill="#0606a0"/><circle cx="478.8" cy="186.9" r="2.3" fill="#0018f0"/><circle cx="355.9" cy="93.7" r="2.3" fill="#880000"/><circle cx="360.0" cy="90.8" r="2.3" fill="#880000"/><circle cx="373.4" cy="87.3" r="2.3" fill="#880000"/><circle cx="375.1" cy="91.9" r="2.3" fill="#880000"/><circle cx="369.9" cy="95.4" r="2.3" fill="#880000"/><circle cx="372.2" cy="100.1" r="2.3" fill="#880000"/><circle cx="367.6" cy="103.6" r="2.3" fill="#880000"/><circle cx="362.9" cy="105.9" r="2.3" fill="#880000"/><circle cx="358.3" cy="107.1" r="2.3" fill="#880000"/><circle cx="352.5" cy="102.4" r="2.3" fill="#880000"/><circle cx="354.8" cy="98.9" r="2.3" fill="#880000"/><circle cx="350.1" cy="89.6" r="2.3" fill="#880000"/></g>
<path d="M321.00 186.50h1.9M321.00 169.20h1.9M321.00 151.90h1.9M321.00 134.60h1.9M321.00 117.30h1.9M321.00 100.00h1.9M321.00 82.70h1.9M321.00 65.40h1.9M321.00 48.10h1.9M321.00 30.80h1.9M321.00 13.50h1.9M321.00 186.50v-1.9M369.25 186.50v-1.9M417.50 186.50v-1.9M465.75 186.50v-1.9M514.00 186.50v-1.9" stroke="#a6a6a6" stroke-width="0.8"/>
<text x="318.40" y="189.90" font-size="6.90" fill="#262626" text-anchor="end">-100</text>
<text x="318.40" y="172.51" font-size="6.90" fill="#262626" text-anchor="end">-80</text>
<text x="318.40" y="155.12" font-size="6.90" fill="#262626" text-anchor="end">-60</text>
<text x="318.40" y="137.73" font-size="6.90" fill="#262626" text-anchor="end">-40</text>
<text x="318.40" y="120.34" font-size="6.90" fill="#262626" text-anchor="end">-20</text>
<text x="318.40" y="102.95" font-size="6.90" fill="#262626" text-anchor="end">0</text>
<text x="318.40" y="85.56" font-size="6.90" fill="#262626" text-anchor="end">20</text>
<text x="318.40" y="68.17" font-size="6.90" fill="#262626" text-anchor="end">40</text>
<text x="318.40" y="50.78" font-size="6.90" fill="#262626" text-anchor="end">60</text>
<text x="318.40" y="33.39" font-size="6.90" fill="#262626" text-anchor="end">80</text>
<text x="318.40" y="16.00" font-size="6.90" fill="#262626" text-anchor="end">100</text>
<text x="321.00" y="196.80" font-size="6.90" fill="#262626" text-anchor="middle">-100</text>
<text x="369.25" y="196.80" font-size="6.90" fill="#262626" text-anchor="middle">-50</text>
<text x="417.50" y="196.80" font-size="6.90" fill="#262626" text-anchor="middle">0</text>
<text x="465.75" y="196.80" font-size="6.90" fill="#262626" text-anchor="middle">50</text>
<text x="514.00" y="196.80" font-size="6.90" fill="#262626" text-anchor="middle">100</text>
<text x="417.50" y="206.70" font-size="7.40" fill="#262626" text-anchor="middle">Dimension 1</text>
<text transform="translate(300.80 100.00) rotate(-90)" font-size="7.40" fill="#262626" text-anchor="middle">Dimension 2</text>
<text x="416.80" y="10.40" font-size="7.40" font-weight="bold" fill="#000" text-anchor="middle">F8 Search History in 2D</text>
<rect x="525.40" y="13.50" width="10.20" height="173.00" fill="url(#par)" stroke="#a6a6a6" stroke-width="0.6"/>
<path d="M535.60 186.50h-1.5M535.60 169.20h-1.5M535.60 151.90h-1.5M535.60 134.60h-1.5M535.60 117.30h-1.5M535.60 100.00h-1.5M535.60 82.70h-1.5M535.60 65.40h-1.5M535.60 48.10h-1.5M535.60 30.80h-1.5M535.60 13.50h-1.5" stroke="#555" stroke-width="0.6"/>
<text x="538.20" y="189.00" font-size="6.90" fill="#262626">0</text>
<text x="538.20" y="171.70" font-size="6.90" fill="#262626">0.1</text>
<text x="538.20" y="154.40" font-size="6.90" fill="#262626">0.2</text>
<text x="538.20" y="137.10" font-size="6.90" fill="#262626">0.3</text>
<text x="538.20" y="119.80" font-size="6.90" fill="#262626">0.4</text>
<text x="538.20" y="102.50" font-size="6.90" fill="#262626">0.5</text>
<text x="538.20" y="85.20" font-size="6.90" fill="#262626">0.6</text>
<text x="538.20" y="67.90" font-size="6.90" fill="#262626">0.7</text>
<text x="538.20" y="50.60" font-size="6.90" fill="#262626">0.8</text>
<text x="538.20" y="33.30" font-size="6.90" fill="#262626">0.9</text>
<text x="538.20" y="16.00" font-size="6.90" fill="#262626">1</text>
<path d="M29.80 232.30V405.30H222.80" fill="none" stroke="#a6a6a6" stroke-width="0.8"/>
<g><circle cx="86.1" cy="231.9" r="2.3" fill="#0606a0"/><circle cx="29.9" cy="244.5" r="2.3" fill="#0606a0"/><circle cx="32.3" cy="254.2" r="2.3" fill="#0606a0"/><circle cx="101.9" cy="248.6" r="2.3" fill="#0606a0"/><circle cx="57.0" cy="252.9" r="2.3" fill="#0606a0"/><circle cx="78.9" cy="255.1" r="2.3" fill="#0606a0"/><circle cx="87.1" cy="259.8" r="2.3" fill="#0606a0"/><circle cx="29.9" cy="264.0" r="2.3" fill="#2aeee8"/><circle cx="37.9" cy="264.0" r="2.3" fill="#ffdc00"/><circle cx="49.6" cy="264.0" r="2.3" fill="#0606a0"/><circle cx="59.2" cy="264.0" r="2.3" fill="#2aeee8"/><circle cx="79.6" cy="264.0" r="2.3" fill="#0018f0"/><circle cx="45.9" cy="270.9" r="2.3" fill="#ff7a00"/><circle cx="29.9" cy="277.9" r="2.3" fill="#0018f0"/><circle cx="69.4" cy="277.9" r="2.3" fill="#0018f0"/><circle cx="87.1" cy="277.9" r="2.3" fill="#1080ff"/><circle cx="89.8" cy="277.9" r="2.3" fill="#0606a0"/><circle cx="94.5" cy="282.2" r="2.3" fill="#0606a0"/><circle cx="62.6" cy="281.1" r="2.3" fill="#880000"/><circle cx="53.3" cy="285.3" r="2.3" fill="#ff7a00"/><circle cx="57.4" cy="285.0" r="2.3" fill="#0606a0"/><circle cx="68.9" cy="285.3" r="2.3" fill="#f01000"/><circle cx="78.9" cy="285.7" r="2.3" fill="#0606a0"/><circle cx="80.6" cy="287.6" r="2.3" fill="#ffdc00"/><circle cx="114.5" cy="287.6" r="2.3" fill="#2aeee8"/><circle cx="159.9" cy="261.8" r="2.3" fill="#0606a0"/><circle cx="147.9" cy="273.3" r="2.3" fill="#0606a0"/><circle cx="149.2" cy="278.3" r="2.3" fill="#0606a0"/><circle cx="168.3" cy="283.1" r="2.3" fill="#1080ff"/><circle cx="178.9" cy="282.6" r="2.3" fill="#0606a0"/><circle cx="188.1" cy="282.2" r="2.3" fill="#0606a0"/><circle cx="155.7" cy="285.7" r="2.3" fill="#1080ff"/><circle cx="201.7" cy="287.6" r="2.3" fill="#0606a0"/><circle cx="49.5" cy="292.0" r="2.3" fill="#0606a0"/><circle cx="54.7" cy="294.9" r="2.3" fill="#2aeee8"/><circle cx="60.4" cy="296.1" r="2.3" fill="#ff7a00"/><circle cx="65.6" cy="292.0" r="2.3" fill="#880000"/><circle cx="71.3" cy="292.3" r="2.3" fill="#880000"/><circle cx="67.5" cy="294.9" r="2.3" fill="#f01000"/><circle cx="71.3" cy="298.9" r="2.3" fill="#880000"/><circle cx="75.8" cy="299.1" r="2.3" fill="#f01000"/><circle cx="36.8" cy="300.3" r="2.3" fill="#ffdc00"/><circle cx="43.4" cy="298.9" r="2.3" fill="#ff7a00"/><circle cx="43.4" cy="302.4" r="2.3" fill="#880000"/><circle cx="45.0" cy="302.0" r="2.3" fill="#880000"/><circle cx="34.9" cy="304.3" r="2.3" fill="#ffdc00"/><circle cx="59.9" cy="300.1" r="2.3" fill="#c8ff30"/><circle cx="60.9" cy="303.9" r="2.3" fill="#ffdc00"/><circle cx="56.6" cy="304.3" r="2.3" fill="#2aeee8"/><circle cx="69.4" cy="304.1" r="2.3" fill="#0018f0"/><circle cx="32.0" cy="308.8" r="2.3" fill="#880000"/><circle cx="44.3" cy="308.1" r="2.3" fill="#0018f0"/><circle cx="46.2" cy="309.3" r="2.3" fill="#880000"/><circle cx="46.7" cy="312.8" r="2.3" fill="#ffdc00"/><circle cx="37.2" cy="312.4" r="2.3" fill="#880000"/><circle cx="37.7" cy="316.6" r="2.3" fill="#880000"/><circle cx="29.7" cy="316.8" r="2.3" fill="#880000"/><circle cx="54.7" cy="312.4" r="2.3" fill="#90ff70"/><circle cx="63.7" cy="312.8" r="2.3" fill="#880000"/><circle cx="73.2" cy="309.3" r="2.3" fill="#880000"/><circle cx="73.2" cy="312.4" r="2.3" fill="#880000"/><circle cx="69.4" cy="315.7" r="2.3" fill="#0018f0"/><circle cx="59.9" cy="317.3" r="2.3" fill="#0606a0"/><circle cx="65.6" cy="317.1" r="2.3" fill="#ff7a00"/><circle cx="65.6" cy="319.9" r="2.3" fill="#2aeee8"/><circle cx="55.2" cy="317.1" r="2.3" fill="#2aeee8"/><circle cx="52.4" cy="319.5" r="2.3" fill="#ff7a00"/><circle cx="49.5" cy="319.5" r="2.3" fill="#880000"/><circle cx="48.1" cy="317.1" r="2.3" fill="#2aeee8"/><circle cx="46.2" cy="319.5" r="2.3" fill="#2aeee8"/><circle cx="49.5" cy="321.8" r="2.3" fill="#f01000"/><circle cx="44.8" cy="323.2" r="2.3" fill="#f01000"/><circle cx="37.7" cy="323.2" r="2.3" fill="#ff7a00"/><circle cx="59.9" cy="322.3" r="2.3" fill="#880000"/><circle cx="56.1" cy="323.7" r="2.3" fill="#880000"/><circle cx="69.4" cy="319.5" r="2.3" fill="#880000"/><circle cx="73.2" cy="318.0" r="2.3" fill="#880000"/><circle cx="71.3" cy="321.8" r="2.3" fill="#880000"/><circle cx="68.4" cy="322.8" r="2.3" fill="#880000"/><circle cx="75.1" cy="321.8" r="2.3" fill="#880000"/><circle cx="109.9" cy="295.8" r="2.3" fill="#880000"/><circle cx="81.6" cy="297.7" r="2.3" fill="#2aeee8"/><circle cx="94.3" cy="299.1" r="2.3" fill="#0606a0"/><circle cx="89.1" cy="302.0" r="2.3" fill="#f01000"/><circle cx="99.7" cy="300.1" r="2.3" fill="#2aeee8"/><circle cx="104.7" cy="300.5" r="2.3" fill="#880000"/><circle cx="119.2" cy="305.7" r="2.3" fill="#2aeee8"/><circle cx="124.1" cy="308.4" r="2.3" fill="#0606a0"/><circle cx="125.1" cy="312.4" r="2.3" fill="#0606a0"/><circle cx="78.5" cy="306.2" r="2.3" fill="#0606a0"/><circle cx="106.6" cy="308.1" r="2.3" fill="#ffdc00"/><circle cx="108.8" cy="310.9" r="2.3" fill="#0018f0"/><circle cx="104.7" cy="312.4" r="2.3" fill="#ff7a00"/><circle cx="97.6" cy="311.9" r="2.3" fill="#880000"/><circle cx="95.3" cy="312.8" r="2.3" fill="#0018f0"/><circle cx="89.1" cy="312.4" r="2.3" fill="#880000"/><circle cx="87.7" cy="312.4" r="2.3" fill="#880000"/><circle cx="79.7" cy="313.3" r="2.3" fill="#880000"/><circle cx="84.4" cy="314.3" r="2.3" fill="#90ff70"/><circle cx="85.3" cy="317.1" r="2.3" fill="#ff7a00"/><circle cx="81.6" cy="317.1" r="2.3" fill="#0018f0"/><circle cx="78.3" cy="316.1" r="2.3" fill="#880000"/><circle cx="78.7" cy="319.9" r="2.3" fill="#880000"/><circle cx="83.5" cy="320.9" r="2.3" fill="#880000"/><circle cx="87.7" cy="318.0" r="2.3" fill="#880000"/><circle cx="91.0" cy="319.0" r="2.3" fill="#0606a0"/><circle cx="89.1" cy="321.3" r="2.3" fill="#880000"/><circle cx="94.6" cy="317.1" r="2.3" fill="#c8ff30"/><circle cx="96.2" cy="319.9" r="2.3" fill="#0606a0"/><circle cx="97.6" cy="322.3" r="2.3" fill="#880000"/><circle cx="102.4" cy="317.1" r="2.3" fill="#ffdc00"/><circle cx="102.4" cy="319.9" r="2.3" fill="#ffdc00"/><circle cx="109.0" cy="319.9" r="2.3" fill="#f01000"/><circle cx="112.8" cy="317.6" r="2.3" fill="#0018f0"/><circle cx="115.1" cy="315.7" r="2.3" fill="#0606a0"/><circle cx="106.6" cy="322.3" r="2.3" fill="#ffdc00"/><circle cx="104.3" cy="322.8" r="2.3" fill="#0606a0"/><circle cx="109.9" cy="322.8" r="2.3" fill="#90ff70"/><circle cx="139.9" cy="290.9" r="2.3" fill="#0606a0"/><circle cx="144.5" cy="292.0" r="2.3" fill="#0018f0"/><circle cx="149.2" cy="290.5" r="2.3" fill="#0018f0"/><circle cx="150.1" cy="294.8" r="2.3" fill="#0018f0"/><circle cx="200.2" cy="291.0" r="2.3" fill="#0606a0"/><circle cx="202.0" cy="288.6" r="2.3" fill="#0606a0"/><circle cx="165.9" cy="299.8" r="2.3" fill="#0018f0"/><circle cx="183.5" cy="297.4" r="2.3" fill="#0606a0"/><circle cx="183.9" cy="299.8" r="2.3" fill="#0606a0"/><circle cx="179.8" cy="303.8" r="2.3" fill="#0606a0"/><circle cx="213.2" cy="303.5" r="2.3" fill="#0606a0"/><circle cx="139.9" cy="305.7" r="2.3" fill="#1080ff"/><circle cx="147.3" cy="310.0" r="2.3" fill="#0606a0"/><circle cx="159.8" cy="308.1" r="2.3" fill="#0606a0"/><circle cx="159.8" cy="312.4" r="2.3" fill="#0606a0"/><circle cx="176.4" cy="308.1" r="2.3" fill="#0018f0"/><circle cx="177.0" cy="310.9" r="2.3" fill="#0018f0"/><circle cx="170.1" cy="314.0" r="2.3" fill="#0606a0"/><circle cx="180.3" cy="314.0" r="2.3" fill="#0606a0"/><circle cx="126.9" cy="311.8" r="2.3" fill="#0606a0"/><circle cx="147.9" cy="315.9" r="2.3" fill="#0018f0"/><circle cx="136.8" cy="317.4" r="2.3" fill="#0606a0"/><circle cx="127.9" cy="320.2" r="2.3" fill="#0018f0"/><circle cx="143.6" cy="320.2" r="2.3" fill="#0018f0"/><circle cx="159.4" cy="319.2" r="2.3" fill="#0606a0"/><circle cx="162.2" cy="320.2" r="2.3" fill="#0606a0"/><circle cx="159.4" cy="321.5" r="2.3" fill="#0018f0"/><circle cx="169.0" cy="320.2" r="2.3" fill="#2aeee8"/><circle cx="204.8" cy="318.9" r="2.3" fill="#0606a0"/><circle cx="183.9" cy="321.6" r="2.3" fill="#0606a0"/><circle cx="188.7" cy="323.5" r="2.3" fill="#0606a0"/><circle cx="133.8" cy="323.3" r="2.3" fill="#0606a0"/><circle cx="149.2" cy="326.7" r="2.3" fill="#2aeee8"/><circle cx="149.7" cy="329.4" r="2.3" fill="#2aeee8"/><circle cx="140.5" cy="328.5" r="2.3" fill="#0606a0"/><circle cx="143.8" cy="328.5" r="2.3" fill="#0606a0"/><circle cx="153.8" cy="328.5" r="2.3" fill="#0606a0"/><circle cx="154.2" cy="331.8" r="2.3" fill="#0606a0"/><circle cx="148.3" cy="333.1" r="2.3" fill="#0606a0"/><circle cx="159.0" cy="331.8" r="2.3" fill="#0018f0"/><circle cx="164.4" cy="331.8" r="2.3" fill="#1080ff"/><circle cx="176.4" cy="328.5" r="2.3" fill="#0606a0"/><circle cx="134.9" cy="331.7" r="2.3" fill="#c8ff30"/><circle cx="156.6" cy="336.3" r="2.3" fill="#0606a0"/><circle cx="158.5" cy="338.2" r="2.3" fill="#0606a0"/><circle cx="149.2" cy="338.2" r="2.3" fill="#f01000"/><circle cx="150.5" cy="341.1" r="2.3" fill="#0018f0"/><circle cx="147.9" cy="343.3" r="2.3" fill="#0018f0"/><circle cx="144.2" cy="343.7" r="2.3" fill="#0018f0"/><circle cx="140.8" cy="343.3" r="2.3" fill="#0606a0"/><circle cx="136.8" cy="343.7" r="2.3" fill="#1080ff"/><circle cx="168.3" cy="341.9" r="2.3" fill="#2aeee8"/><circle cx="170.5" cy="343.7" r="2.3" fill="#0606a0"/><circle cx="176.1" cy="343.7" r="2.3" fill="#0606a0"/><circle cx="179.8" cy="343.7" r="2.3" fill="#0606a0"/><circle cx="185.7" cy="343.3" r="2.3" fill="#0018f0"/><circle cx="199.8" cy="335.6" r="2.3" fill="#0018f0"/><circle cx="212.8" cy="343.3" r="2.3" fill="#0606a0"/><circle cx="222.4" cy="342.4" r="2.3" fill="#0018f0"/><circle cx="222.4" cy="344.3" r="2.3" fill="#0606a0"/><circle cx="29.7" cy="327.2" r="2.3" fill="#880000"/><circle cx="29.7" cy="329.6" r="2.3" fill="#f01000"/><circle cx="48.6" cy="327.2" r="2.3" fill="#2aeee8"/><circle cx="50.0" cy="328.1" r="2.3" fill="#0606a0"/><circle cx="54.7" cy="327.7" r="2.3" fill="#0018f0"/><circle cx="56.1" cy="325.3" r="2.3" fill="#880000"/><circle cx="63.7" cy="324.8" r="2.3" fill="#880000"/><circle cx="63.7" cy="327.2" r="2.3" fill="#880000"/><circle cx="67.0" cy="327.7" r="2.3" fill="#880000"/><circle cx="71.3" cy="324.8" r="2.3" fill="#880000"/><circle cx="74.1" cy="327.2" r="2.3" fill="#880000"/><circle cx="44.8" cy="329.1" r="2.3" fill="#ff7a00"/><circle cx="51.9" cy="331.5" r="2.3" fill="#ffdc00"/><circle cx="56.6" cy="331.0" r="2.3" fill="#880000"/><circle cx="59.9" cy="331.0" r="2.3" fill="#ff7a00"/><circle cx="63.7" cy="331.5" r="2.3" fill="#f01000"/><circle cx="69.4" cy="331.0" r="2.3" fill="#2aeee8"/><circle cx="68.9" cy="333.3" r="2.3" fill="#880000"/><circle cx="68.9" cy="335.2" r="2.3" fill="#880000"/><circle cx="74.6" cy="331.5" r="2.3" fill="#880000"/><circle cx="75.1" cy="335.2" r="2.3" fill="#ff7a00"/><circle cx="41.5" cy="332.4" r="2.3" fill="#1080ff"/><circle cx="41.5" cy="336.2" r="2.3" fill="#f01000"/><circle cx="48.1" cy="334.3" r="2.3" fill="#ffdc00"/><circle cx="52.8" cy="334.3" r="2.3" fill="#f01000"/><circle cx="55.7" cy="333.8" r="2.3" fill="#880000"/><circle cx="55.2" cy="337.6" r="2.3" fill="#ffdc00"/><circle cx="29.7" cy="341.7" r="2.3" fill="#2aeee8"/><circle cx="29.7" cy="344.7" r="2.3" fill="#ff7a00"/><circle cx="30.1" cy="347.1" r="2.3" fill="#ff7a00"/><circle cx="29.7" cy="351.3" r="2.3" fill="#2aeee8"/><circle cx="29.7" cy="355.6" r="2.3" fill="#0606a0"/><circle cx="41.5" cy="344.7" r="2.3" fill="#2aeee8"/><circle cx="44.8" cy="346.8" r="2.3" fill="#880000"/><circle cx="46.7" cy="348.5" r="2.3" fill="#ffdc00"/><circle cx="52.4" cy="345.2" r="2.3" fill="#ff7a00"/><circle cx="56.1" cy="341.9" r="2.3" fill="#880000"/><circle cx="57.1" cy="344.7" r="2.3" fill="#1080ff"/><circle cx="59.0" cy="339.5" r="2.3" fill="#2aeee8"/><circle cx="61.3" cy="340.0" r="2.3" fill="#f01000"/><circle cx="63.2" cy="340.0" r="2.3" fill="#880000"/><circle cx="68.0" cy="340.9" r="2.3" fill="#0606a0"/><circle cx="62.3" cy="344.7" r="2.3" fill="#f01000"/><circle cx="65.6" cy="344.7" r="2.3" fill="#2aeee8"/><circle cx="67.0" cy="347.1" r="2.3" fill="#ff7a00"/><circle cx="69.9" cy="346.6" r="2.3" fill="#2aeee8"/><circle cx="73.2" cy="346.8" r="2.3" fill="#880000"/><circle cx="75.1" cy="341.9" r="2.3" fill="#ff7a00"/><circle cx="63.7" cy="349.9" r="2.3" fill="#f01000"/><circle cx="67.0" cy="350.8" r="2.3" fill="#f01000"/><circle cx="72.7" cy="350.8" r="2.3" fill="#c8ff30"/><circle cx="75.1" cy="354.1" r="2.3" fill="#0606a0"/><circle cx="72.7" cy="357.5" r="2.3" fill="#c8ff30"/><circle cx="41.5" cy="354.0" r="2.3" fill="#1080ff"/><circle cx="61.6" cy="354.6" r="2.3" fill="#1080ff"/><circle cx="59.0" cy="361.7" r="2.3" fill="#0606a0"/><circle cx="77.8" cy="325.8" r="2.3" fill="#880000"/><circle cx="78.7" cy="327.7" r="2.3" fill="#880000"/><circle cx="81.6" cy="331.5" r="2.3" fill="#880000"/><circle cx="86.3" cy="325.8" r="2.3" fill="#880000"/><circle cx="88.7" cy="327.2" r="2.3" fill="#880000"/><circle cx="85.3" cy="331.5" r="2.3" fill="#880000"/><circle cx="89.1" cy="329.6" r="2.3" fill="#f01000"/><circle cx="94.3" cy="324.8" r="2.3" fill="#880000"/><circle cx="94.8" cy="330.0" r="2.3" fill="#880000"/><circle cx="93.4" cy="331.9" r="2.3" fill="#880000"/><circle cx="100.0" cy="331.5" r="2.3" fill="#880000"/><circle cx="103.3" cy="327.7" r="2.3" fill="#ffdc00"/><circle cx="109.9" cy="327.2" r="2.3" fill="#0018f0"/><circle cx="109.5" cy="330.3" r="2.3" fill="#ff7a00"/><circle cx="115.6" cy="328.8" r="2.3" fill="#f01000"/><circle cx="118.4" cy="329.1" r="2.3" fill="#2aeee8"/><circle cx="80.1" cy="335.2" r="2.3" fill="#ffdc00"/><circle cx="83.0" cy="333.8" r="2.3" fill="#f01000"/><circle cx="79.2" cy="338.1" r="2.3" fill="#880000"/><circle cx="82.5" cy="338.1" r="2.3" fill="#ff7a00"/><circle cx="76.8" cy="341.9" r="2.3" fill="#ff7a00"/><circle cx="78.3" cy="344.2" r="2.3" fill="#0018f0"/><circle cx="80.1" cy="344.7" r="2.3" fill="#90ff70"/><circle cx="81.6" cy="347.5" r="2.3" fill="#2aeee8"/><circle cx="78.3" cy="347.5" r="2.3" fill="#2aeee8"/><circle cx="85.3" cy="335.7" r="2.3" fill="#1080ff"/><circle cx="90.5" cy="337.1" r="2.3" fill="#ff7a00"/><circle cx="92.9" cy="334.8" r="2.3" fill="#ff7a00"/><circle cx="96.7" cy="336.2" r="2.3" fill="#880000"/><circle cx="99.1" cy="336.2" r="2.3" fill="#880000"/><circle cx="101.9" cy="336.2" r="2.3" fill="#0606a0"/><circle cx="104.7" cy="334.8" r="2.3" fill="#880000"/><circle cx="106.6" cy="337.1" r="2.3" fill="#0018f0"/><circle cx="109.5" cy="336.7" r="2.3" fill="#880000"/><circle cx="111.3" cy="338.1" r="2.3" fill="#ffdc00"/><circle cx="113.7" cy="335.2" r="2.3" fill="#ff7a00"/><circle cx="91.0" cy="341.9" r="2.3" fill="#1080ff"/><circle cx="97.6" cy="340.4" r="2.3" fill="#f01000"/><circle cx="99.1" cy="343.7" r="2.3" fill="#f01000"/><circle cx="103.3" cy="340.4" r="2.3" fill="#0606a0"/><circle cx="105.7" cy="343.3" r="2.3" fill="#2aeee8"/><circle cx="107.6" cy="340.9" r="2.3" fill="#0018f0"/><circle cx="111.8" cy="340.9" r="2.3" fill="#ffdc00"/><circle cx="111.3" cy="344.2" r="2.3" fill="#ffdc00"/><circle cx="114.2" cy="341.9" r="2.3" fill="#90ff70"/><circle cx="118.4" cy="343.3" r="2.3" fill="#0606a0"/><circle cx="124.1" cy="344.5" r="2.3" fill="#0606a0"/><circle cx="86.3" cy="347.5" r="2.3" fill="#ffdc00"/><circle cx="85.8" cy="348.9" r="2.3" fill="#880000"/><circle cx="89.1" cy="346.8" r="2.3" fill="#ff7a00"/><circle cx="96.2" cy="347.5" r="2.3" fill="#2aeee8"/><circle cx="95.3" cy="349.9" r="2.3" fill="#ff7a00"/><circle cx="101.4" cy="350.4" r="2.3" fill="#880000"/><circle cx="106.6" cy="350.4" r="2.3" fill="#90ff70"/><circle cx="107.6" cy="347.7" r="2.3" fill="#2aeee8"/><circle cx="113.7" cy="348.9" r="2.3" fill="#2aeee8"/><circle cx="118.0" cy="350.4" r="2.3" fill="#2aeee8"/><circle cx="122.7" cy="348.5" r="2.3" fill="#0018f0"/><circle cx="120.3" cy="351.3" r="2.3" fill="#0018f0"/><circle cx="77.8" cy="353.2" r="2.3" fill="#ffdc00"/><circle cx="81.1" cy="351.8" r="2.3" fill="#ffdc00"/><circle cx="81.6" cy="354.6" r="2.3" fill="#c8ff30"/><circle cx="86.3" cy="354.1" r="2.3" fill="#ffdc00"/><circle cx="90.1" cy="354.6" r="2.3" fill="#0018f0"/><circle cx="93.9" cy="354.6" r="2.3" fill="#f01000"/><circle cx="99.5" cy="357.5" r="2.3" fill="#ff7a00"/><circle cx="106.1" cy="354.1" r="2.3" fill="#880000"/><circle cx="109.5" cy="353.2" r="2.3" fill="#0018f0"/><circle cx="107.1" cy="357.5" r="2.3" fill="#ff7a00"/><circle cx="114.2" cy="356.5" r="2.3" fill="#0018f0"/><circle cx="118.0" cy="355.6" r="2.3" fill="#0606a0"/><circle cx="123.6" cy="354.6" r="2.3" fill="#2aeee8"/><circle cx="122.2" cy="357.5" r="2.3" fill="#90ff70"/><circle cx="79.7" cy="358.9" r="2.3" fill="#f01000"/><circle cx="85.8" cy="358.4" r="2.3" fill="#880000"/><circle cx="87.7" cy="357.5" r="2.3" fill="#ff7a00"/><circle cx="93.9" cy="357.9" r="2.3" fill="#ff7a00"/><circle cx="93.4" cy="360.8" r="2.3" fill="#ff7a00"/><circle cx="97.6" cy="361.0" r="2.3" fill="#ffdc00"/><circle cx="103.3" cy="358.9" r="2.3" fill="#0606a0"/><circle cx="108.0" cy="360.8" r="2.3" fill="#0606a0"/><circle cx="115.6" cy="358.9" r="2.3" fill="#0606a0"/><circle cx="113.7" cy="361.2" r="2.3" fill="#90ff70"/><circle cx="149.7" cy="348.1" r="2.3" fill="#2aeee8"/><circle cx="159.4" cy="348.6" r="2.3" fill="#0606a0"/><circle cx="169.2" cy="349.6" r="2.3" fill="#2aeee8"/><circle cx="175.1" cy="349.0" r="2.3" fill="#0606a0"/><circle cx="183.5" cy="350.5" r="2.3" fill="#0606a0"/><circle cx="188.1" cy="352.3" r="2.3" fill="#0606a0"/><circle cx="126.9" cy="348.1" r="2.3" fill="#ff7a00"/><circle cx="126.9" cy="351.4" r="2.3" fill="#0018f0"/><circle cx="153.8" cy="352.7" r="2.3" fill="#0606a0"/><circle cx="134.7" cy="355.1" r="2.3" fill="#c8ff30"/><circle cx="136.8" cy="358.8" r="2.3" fill="#2aeee8"/><circle cx="191.8" cy="358.5" r="2.3" fill="#0606a0"/><circle cx="212.2" cy="357.4" r="2.3" fill="#0606a0"/><circle cx="145.5" cy="362.5" r="2.3" fill="#0606a0"/><circle cx="157.5" cy="364.8" r="2.3" fill="#0606a0"/><circle cx="157.9" cy="367.7" r="2.3" fill="#0606a0"/><circle cx="160.3" cy="368.1" r="2.3" fill="#0606a0"/><circle cx="162.2" cy="366.6" r="2.3" fill="#0018f0"/><circle cx="170.1" cy="364.4" r="2.3" fill="#1080ff"/><circle cx="130.6" cy="370.9" r="2.3" fill="#90ff70"/><circle cx="131.2" cy="371.8" r="2.3" fill="#0606a0"/><circle cx="149.7" cy="371.4" r="2.3" fill="#90ff70"/><circle cx="149.2" cy="372.7" r="2.3" fill="#0018f0"/><circle cx="139.9" cy="376.5" r="2.3" fill="#0018f0"/><circle cx="144.5" cy="378.3" r="2.3" fill="#0018f0"/><circle cx="157.5" cy="378.3" r="2.3" fill="#0018f0"/><circle cx="126.9" cy="382.9" r="2.3" fill="#2aeee8"/><circle cx="136.8" cy="382.9" r="2.3" fill="#1080ff"/><circle cx="134.9" cy="385.7" r="2.3" fill="#1080ff"/><circle cx="144.5" cy="382.9" r="2.3" fill="#0018f0"/><circle cx="182.6" cy="383.3" r="2.3" fill="#0606a0"/><circle cx="159.4" cy="389.4" r="2.3" fill="#0606a0"/><circle cx="159.8" cy="392.6" r="2.3" fill="#0606a0"/><circle cx="160.9" cy="394.4" r="2.3" fill="#0606a0"/><circle cx="167.2" cy="394.4" r="2.3" fill="#0606a0"/><circle cx="170.1" cy="393.1" r="2.3" fill="#0606a0"/><circle cx="182.6" cy="393.7" r="2.3" fill="#0606a0"/><circle cx="191.8" cy="393.7" r="2.3" fill="#0018f0"/><circle cx="159.4" cy="397.8" r="2.3" fill="#0018f0"/><circle cx="160.3" cy="400.6" r="2.3" fill="#0018f0"/><circle cx="159.4" cy="403.7" r="2.3" fill="#0606a0"/><circle cx="139.4" cy="400.6" r="2.3" fill="#0018f0"/><circle cx="144.5" cy="400.6" r="2.3" fill="#0018f0"/><circle cx="151.6" cy="405.6" r="2.3" fill="#0018f0"/><circle cx="60.7" cy="364.1" r="2.3" fill="#ffdc00"/><circle cx="89.8" cy="362.8" r="2.3" fill="#0606a0"/><circle cx="100.0" cy="364.6" r="2.3" fill="#f01000"/><circle cx="104.7" cy="365.2" r="2.3" fill="#0606a0"/><circle cx="120.4" cy="363.7" r="2.3" fill="#90ff70"/><circle cx="124.1" cy="363.7" r="2.3" fill="#90ff70"/><circle cx="85.8" cy="369.3" r="2.3" fill="#ffdc00"/><circle cx="99.1" cy="369.3" r="2.3" fill="#0606a0"/><circle cx="102.8" cy="367.4" r="2.3" fill="#0018f0"/><circle cx="117.7" cy="368.9" r="2.3" fill="#1080ff"/><circle cx="118.6" cy="371.1" r="2.3" fill="#0018f0"/><circle cx="124.1" cy="372.6" r="2.3" fill="#0606a0"/><circle cx="101.0" cy="372.6" r="2.3" fill="#0606a0"/><circle cx="98.2" cy="373.9" r="2.3" fill="#880000"/><circle cx="100.4" cy="376.3" r="2.3" fill="#0606a0"/><circle cx="90.8" cy="377.1" r="2.3" fill="#0606a0"/><circle cx="68.5" cy="380.8" r="2.3" fill="#0606a0"/><circle cx="124.1" cy="379.5" r="2.3" fill="#90ff70"/><circle cx="125.6" cy="383.2" r="2.3" fill="#2aeee8"/><circle cx="92.2" cy="382.6" r="2.3" fill="#2aeee8"/><circle cx="94.8" cy="382.6" r="2.3" fill="#ff7a00"/><circle cx="101.9" cy="383.2" r="2.3" fill="#0606a0"/><circle cx="104.1" cy="382.6" r="2.3" fill="#0606a0"/><circle cx="109.7" cy="384.5" r="2.3" fill="#0018f0"/><circle cx="113.9" cy="382.6" r="2.3" fill="#2aeee8"/><circle cx="118.2" cy="387.3" r="2.3" fill="#0606a0"/><circle cx="29.9" cy="387.3" r="2.3" fill="#2aeee8"/><circle cx="84.3" cy="400.2" r="2.3" fill="#90ff70"/><circle cx="99.1" cy="400.2" r="2.3" fill="#0606a0"/><circle cx="102.8" cy="396.7" r="2.3" fill="#2aeee8"/><circle cx="108.4" cy="398.0" r="2.3" fill="#0606a0"/><circle cx="110.2" cy="396.2" r="2.3" fill="#0606a0"/><circle cx="113.0" cy="400.4" r="2.3" fill="#0606a0"/><circle cx="124.1" cy="400.4" r="2.3" fill="#0018f0"/><circle cx="74.4" cy="405.4" r="2.3" fill="#90ff70"/><circle cx="96.3" cy="405.4" r="2.3" fill="#ff7a00"/><circle cx="109.7" cy="405.4" r="2.3" fill="#f01000"/></g>
<path d="M29.80 405.30h1.9M29.80 388.00h1.9M29.80 370.70h1.9M29.80 353.40h1.9M29.80 336.10h1.9M29.80 318.80h1.9M29.80 301.50h1.9M29.80 284.20h1.9M29.80 266.90h1.9M29.80 249.60h1.9M29.80 232.30h1.9M29.80 405.30v-1.9M78.05 405.30v-1.9M126.30 405.30v-1.9M174.55 405.30v-1.9M222.80 405.30v-1.9" stroke="#a6a6a6" stroke-width="0.8"/>
<text x="27.20" y="408.70" font-size="6.90" fill="#262626" text-anchor="end">-100</text>
<text x="27.20" y="391.31" font-size="6.90" fill="#262626" text-anchor="end">-80</text>
<text x="27.20" y="373.92" font-size="6.90" fill="#262626" text-anchor="end">-60</text>
<text x="27.20" y="356.53" font-size="6.90" fill="#262626" text-anchor="end">-40</text>
<text x="27.20" y="339.14" font-size="6.90" fill="#262626" text-anchor="end">-20</text>
<text x="27.20" y="321.75" font-size="6.90" fill="#262626" text-anchor="end">0</text>
<text x="27.20" y="304.36" font-size="6.90" fill="#262626" text-anchor="end">20</text>
<text x="27.20" y="286.97" font-size="6.90" fill="#262626" text-anchor="end">40</text>
<text x="27.20" y="269.58" font-size="6.90" fill="#262626" text-anchor="end">60</text>
<text x="27.20" y="252.19" font-size="6.90" fill="#262626" text-anchor="end">80</text>
<text x="27.20" y="234.80" font-size="6.90" fill="#262626" text-anchor="end">100</text>
<text x="29.80" y="415.60" font-size="6.90" fill="#262626" text-anchor="middle">-100</text>
<text x="78.05" y="415.60" font-size="6.90" fill="#262626" text-anchor="middle">-50</text>
<text x="126.30" y="415.60" font-size="6.90" fill="#262626" text-anchor="middle">0</text>
<text x="174.55" y="415.60" font-size="6.90" fill="#262626" text-anchor="middle">50</text>
<text x="222.80" y="415.60" font-size="6.90" fill="#262626" text-anchor="middle">100</text>
<text x="126.30" y="425.50" font-size="7.40" fill="#262626" text-anchor="middle">Dimension 1</text>
<text transform="translate(9.60 318.80) rotate(-90)" font-size="7.40" fill="#262626" text-anchor="middle">Dimension 2</text>
<text x="125.60" y="229.20" font-size="7.40" font-weight="bold" fill="#000" text-anchor="middle">F9 Search History in 2D</text>
<rect x="233.90" y="232.30" width="10.20" height="173.00" fill="url(#par)" stroke="#a6a6a6" stroke-width="0.6"/>
<path d="M244.10 405.30h-1.5M244.10 388.00h-1.5M244.10 370.70h-1.5M244.10 353.40h-1.5M244.10 336.10h-1.5M244.10 318.80h-1.5M244.10 301.50h-1.5M244.10 284.20h-1.5M244.10 266.90h-1.5M244.10 249.60h-1.5M244.10 232.30h-1.5" stroke="#555" stroke-width="0.6"/>
<text x="246.70" y="407.80" font-size="6.90" fill="#262626">0</text>
<text x="246.70" y="390.50" font-size="6.90" fill="#262626">0.1</text>
<text x="246.70" y="373.20" font-size="6.90" fill="#262626">0.2</text>
<text x="246.70" y="355.90" font-size="6.90" fill="#262626">0.3</text>
<text x="246.70" y="338.60" font-size="6.90" fill="#262626">0.4</text>
<text x="246.70" y="321.30" font-size="6.90" fill="#262626">0.5</text>
<text x="246.70" y="304.00" font-size="6.90" fill="#262626">0.6</text>
<text x="246.70" y="286.70" font-size="6.90" fill="#262626">0.7</text>
<text x="246.70" y="269.40" font-size="6.90" fill="#262626">0.8</text>
<text x="246.70" y="252.10" font-size="6.90" fill="#262626">0.9</text>
<text x="246.70" y="234.80" font-size="6.90" fill="#262626">1</text>
<path d="M321.00 232.30V405.30H514.00" fill="none" stroke="#a6a6a6" stroke-width="0.8"/>
<g><circle cx="321.5" cy="234.3" r="2.3" fill="#0606a0"/><circle cx="329.8" cy="231.9" r="2.3" fill="#1080ff"/><circle cx="333.9" cy="231.9" r="2.3" fill="#90ff70"/><circle cx="357.7" cy="231.6" r="2.3" fill="#2aeee8"/><circle cx="362.3" cy="231.6" r="2.3" fill="#0018f0"/><circle cx="357.3" cy="236.8" r="2.3" fill="#1080ff"/><circle cx="384.0" cy="231.9" r="2.3" fill="#ff7a00"/><circle cx="405.5" cy="231.6" r="2.3" fill="#0606a0"/><circle cx="413.7" cy="232.9" r="2.3" fill="#0606a0"/><circle cx="352.1" cy="243.1" r="2.3" fill="#2aeee8"/><circle cx="362.3" cy="243.2" r="2.3" fill="#880000"/><circle cx="359.5" cy="248.6" r="2.3" fill="#0606a0"/><circle cx="321.5" cy="252.9" r="2.3" fill="#0606a0"/><circle cx="332.1" cy="252.9" r="2.3" fill="#0606a0"/><circle cx="359.9" cy="257.0" r="2.3" fill="#0606a0"/><circle cx="372.5" cy="253.8" r="2.3" fill="#0606a0"/><circle cx="324.3" cy="273.3" r="2.3" fill="#0606a0"/><circle cx="358.6" cy="274.6" r="2.3" fill="#0606a0"/><circle cx="370.3" cy="274.6" r="2.3" fill="#0606a0"/><circle cx="395.7" cy="274.6" r="2.3" fill="#0606a0"/><circle cx="410.0" cy="278.5" r="2.3" fill="#0606a0"/><circle cx="410.0" cy="281.1" r="2.3" fill="#0018f0"/><circle cx="321.5" cy="281.6" r="2.3" fill="#2aeee8"/><circle cx="343.7" cy="283.5" r="2.3" fill="#880000"/><circle cx="346.9" cy="285.7" r="2.3" fill="#f01000"/><circle cx="378.1" cy="286.3" r="2.3" fill="#1080ff"/><circle cx="385.1" cy="287.6" r="2.3" fill="#90ff70"/><circle cx="399.9" cy="286.3" r="2.3" fill="#0606a0"/><circle cx="321.5" cy="287.2" r="2.3" fill="#0606a0"/><circle cx="421.6" cy="231.6" r="2.3" fill="#90ff70"/><circle cx="481.0" cy="239.5" r="2.3" fill="#0606a0"/><circle cx="452.2" cy="252.9" r="2.3" fill="#0606a0"/><circle cx="502.9" cy="252.9" r="2.3" fill="#0606a0"/><circle cx="427.8" cy="274.6" r="2.3" fill="#0606a0"/><circle cx="321.1" cy="289.0" r="2.3" fill="#0606a0"/><circle cx="357.1" cy="292.1" r="2.3" fill="#0606a0"/><circle cx="357.5" cy="296.4" r="2.3" fill="#c8ff30"/><circle cx="357.7" cy="298.8" r="2.3" fill="#ffdc00"/><circle cx="362.7" cy="298.3" r="2.3" fill="#0018f0"/><circle cx="323.5" cy="295.0" r="2.3" fill="#ffdc00"/><circle cx="324.3" cy="297.8" r="2.3" fill="#880000"/><circle cx="331.5" cy="304.9" r="2.3" fill="#0606a0"/><circle cx="347.1" cy="304.9" r="2.3" fill="#880000"/><circle cx="361.3" cy="305.4" r="2.3" fill="#880000"/><circle cx="347.1" cy="312.5" r="2.3" fill="#1080ff"/><circle cx="353.3" cy="311.7" r="2.3" fill="#f01000"/><circle cx="356.1" cy="311.7" r="2.3" fill="#880000"/><circle cx="360.4" cy="311.3" r="2.3" fill="#880000"/><circle cx="364.6" cy="310.8" r="2.3" fill="#880000"/><circle cx="365.6" cy="312.9" r="2.3" fill="#2aeee8"/><circle cx="360.4" cy="314.4" r="2.3" fill="#880000"/><circle cx="337.7" cy="315.8" r="2.3" fill="#880000"/><circle cx="349.0" cy="318.4" r="2.3" fill="#880000"/><circle cx="354.2" cy="317.2" r="2.3" fill="#880000"/><circle cx="356.6" cy="318.6" r="2.3" fill="#880000"/><circle cx="361.3" cy="318.6" r="2.3" fill="#c8ff30"/><circle cx="363.2" cy="320.0" r="2.3" fill="#880000"/><circle cx="365.1" cy="321.5" r="2.3" fill="#880000"/><circle cx="366.1" cy="319.6" r="2.3" fill="#880000"/><circle cx="364.2" cy="323.8" r="2.3" fill="#880000"/><circle cx="358.0" cy="323.8" r="2.3" fill="#ff7a00"/><circle cx="324.3" cy="316.4" r="2.3" fill="#ffdc00"/><circle cx="321.1" cy="319.8" r="2.3" fill="#c8ff30"/><circle cx="374.9" cy="296.4" r="2.3" fill="#0606a0"/><circle cx="379.2" cy="295.0" r="2.3" fill="#ffdc00"/><circle cx="387.2" cy="293.8" r="2.3" fill="#ffdc00"/><circle cx="407.1" cy="296.9" r="2.3" fill="#0606a0"/><circle cx="371.6" cy="300.2" r="2.3" fill="#880000"/><circle cx="374.0" cy="300.2" r="2.3" fill="#f01000"/><circle cx="370.2" cy="303.0" r="2.3" fill="#f01000"/><circle cx="374.9" cy="303.0" r="2.3" fill="#ffdc00"/><circle cx="374.0" cy="305.9" r="2.3" fill="#880000"/><circle cx="382.5" cy="302.5" r="2.3" fill="#2aeee8"/><circle cx="380.1" cy="303.5" r="2.3" fill="#f01000"/><circle cx="383.9" cy="303.5" r="2.3" fill="#880000"/><circle cx="387.7" cy="303.0" r="2.3" fill="#f01000"/><circle cx="395.7" cy="303.0" r="2.3" fill="#880000"/><circle cx="414.2" cy="304.0" r="2.3" fill="#2aeee8"/><circle cx="410.9" cy="308.7" r="2.3" fill="#c8ff30"/><circle cx="378.2" cy="308.2" r="2.3" fill="#1080ff"/><circle cx="385.3" cy="308.2" r="2.3" fill="#f01000"/><circle cx="387.2" cy="311.1" r="2.3" fill="#880000"/><circle cx="391.5" cy="312.9" r="2.3" fill="#f01000"/><circle cx="378.7" cy="311.5" r="2.3" fill="#f01000"/><circle cx="382.5" cy="312.0" r="2.3" fill="#0018f0"/><circle cx="371.1" cy="311.7" r="2.3" fill="#880000"/><circle cx="399.0" cy="312.0" r="2.3" fill="#2aeee8"/><circle cx="374.5" cy="316.7" r="2.3" fill="#880000"/><circle cx="372.1" cy="319.1" r="2.3" fill="#f01000"/><circle cx="378.2" cy="318.1" r="2.3" fill="#880000"/><circle cx="379.7" cy="317.2" r="2.3" fill="#880000"/><circle cx="383.0" cy="317.2" r="2.3" fill="#ff7a00"/><circle cx="387.2" cy="316.7" r="2.3" fill="#ff7a00"/><circle cx="389.1" cy="319.1" r="2.3" fill="#880000"/><circle cx="390.1" cy="321.5" r="2.3" fill="#880000"/><circle cx="396.2" cy="319.1" r="2.3" fill="#2aeee8"/><circle cx="399.0" cy="319.6" r="2.3" fill="#90ff70"/><circle cx="405.8" cy="319.8" r="2.3" fill="#f01000"/><circle cx="374.5" cy="321.0" r="2.3" fill="#ff7a00"/><circle cx="367.8" cy="323.3" r="2.3" fill="#880000"/><circle cx="371.6" cy="325.2" r="2.3" fill="#880000"/><circle cx="375.4" cy="324.8" r="2.3" fill="#0606a0"/><circle cx="381.5" cy="324.3" r="2.3" fill="#ffdc00"/><circle cx="384.9" cy="323.8" r="2.3" fill="#f01000"/><circle cx="392.4" cy="324.8" r="2.3" fill="#880000"/><circle cx="404.2" cy="324.3" r="2.3" fill="#2aeee8"/><circle cx="414.2" cy="322.4" r="2.3" fill="#2aeee8"/><circle cx="416.1" cy="324.8" r="2.3" fill="#1080ff"/><circle cx="435.2" cy="293.8" r="2.3" fill="#ffdc00"/><circle cx="440.7" cy="300.8" r="2.3" fill="#0606a0"/><circle cx="446.3" cy="305.5" r="2.3" fill="#0606a0"/><circle cx="435.2" cy="308.6" r="2.3" fill="#ffdc00"/><circle cx="432.8" cy="312.3" r="2.3" fill="#1080ff"/><circle cx="435.9" cy="312.9" r="2.3" fill="#f01000"/><circle cx="440.7" cy="310.1" r="2.3" fill="#0606a0"/><circle cx="446.7" cy="311.0" r="2.3" fill="#0606a0"/><circle cx="450.8" cy="314.2" r="2.3" fill="#f01000"/><circle cx="461.1" cy="308.3" r="2.3" fill="#0606a0"/><circle cx="463.4" cy="311.6" r="2.3" fill="#0018f0"/><circle cx="474.9" cy="296.6" r="2.3" fill="#0606a0"/><circle cx="481.0" cy="298.6" r="2.3" fill="#0606a0"/><circle cx="486.5" cy="294.9" r="2.3" fill="#0018f0"/><circle cx="482.8" cy="304.0" r="2.3" fill="#0606a0"/><circle cx="443.0" cy="318.1" r="2.3" fill="#ff7a00"/><circle cx="440.7" cy="320.9" r="2.3" fill="#0606a0"/><circle cx="438.9" cy="324.0" r="2.3" fill="#0606a0"/><circle cx="435.9" cy="323.6" r="2.3" fill="#2aeee8"/><circle cx="450.8" cy="319.9" r="2.3" fill="#880000"/><circle cx="446.7" cy="323.6" r="2.3" fill="#1080ff"/><circle cx="417.9" cy="326.4" r="2.3" fill="#0018f0"/><circle cx="459.3" cy="328.3" r="2.3" fill="#f01000"/><circle cx="475.0" cy="325.5" r="2.3" fill="#1080ff"/><circle cx="417.9" cy="334.2" r="2.3" fill="#90ff70"/><circle cx="420.7" cy="337.9" r="2.3" fill="#880000"/><circle cx="441.1" cy="338.5" r="2.3" fill="#1080ff"/><circle cx="443.0" cy="338.5" r="2.3" fill="#90ff70"/><circle cx="448.2" cy="337.9" r="2.3" fill="#0606a0"/><circle cx="482.8" cy="337.9" r="2.3" fill="#0606a0"/><circle cx="459.3" cy="344.4" r="2.3" fill="#f01000"/><circle cx="433.3" cy="346.8" r="2.3" fill="#1080ff"/><circle cx="326.5" cy="328.0" r="2.3" fill="#f01000"/><circle cx="336.9" cy="327.8" r="2.3" fill="#ff7a00"/><circle cx="350.0" cy="327.8" r="2.3" fill="#ffdc00"/><circle cx="352.3" cy="327.3" r="2.3" fill="#2aeee8"/><circle cx="354.2" cy="326.8" r="2.3" fill="#ffdc00"/><circle cx="357.1" cy="329.2" r="2.3" fill="#880000"/><circle cx="360.4" cy="327.8" r="2.3" fill="#f01000"/><circle cx="363.2" cy="327.8" r="2.3" fill="#880000"/><circle cx="365.1" cy="329.7" r="2.3" fill="#880000"/><circle cx="361.3" cy="332.0" r="2.3" fill="#880000"/><circle cx="365.1" cy="331.6" r="2.3" fill="#880000"/><circle cx="321.1" cy="333.9" r="2.3" fill="#f01000"/><circle cx="321.1" cy="339.9" r="2.3" fill="#2aeee8"/><circle cx="321.1" cy="346.5" r="2.3" fill="#c8ff30"/><circle cx="321.1" cy="351.9" r="2.3" fill="#0606a0"/><circle cx="338.2" cy="337.2" r="2.3" fill="#ff7a00"/><circle cx="337.7" cy="339.1" r="2.3" fill="#ff7a00"/><circle cx="356.6" cy="337.2" r="2.3" fill="#f01000"/><circle cx="359.4" cy="337.2" r="2.3" fill="#880000"/><circle cx="363.2" cy="338.2" r="2.3" fill="#2aeee8"/><circle cx="339.4" cy="348.1" r="2.3" fill="#0018f0"/><circle cx="350.9" cy="345.9" r="2.3" fill="#c8ff30"/><circle cx="354.2" cy="345.0" r="2.3" fill="#f01000"/><circle cx="360.4" cy="345.0" r="2.3" fill="#880000"/><circle cx="364.6" cy="345.9" r="2.3" fill="#ff7a00"/><circle cx="353.8" cy="350.9" r="2.3" fill="#ffdc00"/><circle cx="355.7" cy="352.2" r="2.3" fill="#f01000"/><circle cx="358.5" cy="352.2" r="2.3" fill="#880000"/><circle cx="360.9" cy="351.9" r="2.3" fill="#ff7a00"/><circle cx="364.6" cy="352.8" r="2.3" fill="#880000"/><circle cx="372.1" cy="326.8" r="2.3" fill="#880000"/><circle cx="368.3" cy="327.8" r="2.3" fill="#ff7a00"/><circle cx="375.9" cy="328.3" r="2.3" fill="#ff7a00"/><circle cx="378.7" cy="327.3" r="2.3" fill="#2aeee8"/><circle cx="393.4" cy="326.4" r="2.3" fill="#880000"/><circle cx="369.7" cy="333.5" r="2.3" fill="#ffdc00"/><circle cx="369.7" cy="336.8" r="2.3" fill="#880000"/><circle cx="376.3" cy="332.0" r="2.3" fill="#880000"/><circle cx="379.7" cy="331.6" r="2.3" fill="#880000"/><circle cx="379.2" cy="334.4" r="2.3" fill="#880000"/><circle cx="377.8" cy="337.2" r="2.3" fill="#880000"/><circle cx="384.9" cy="330.6" r="2.3" fill="#880000"/><circle cx="388.6" cy="328.7" r="2.3" fill="#0606a0"/><circle cx="390.5" cy="330.1" r="2.3" fill="#f01000"/><circle cx="394.5" cy="330.8" r="2.3" fill="#f01000"/><circle cx="387.2" cy="334.4" r="2.3" fill="#c8ff30"/><circle cx="412.7" cy="328.0" r="2.3" fill="#ff7a00"/><circle cx="409.2" cy="335.8" r="2.3" fill="#0606a0"/><circle cx="412.7" cy="334.9" r="2.3" fill="#2aeee8"/><circle cx="369.3" cy="342.7" r="2.3" fill="#0606a0"/><circle cx="370.7" cy="346.2" r="2.3" fill="#ffdc00"/><circle cx="375.6" cy="341.8" r="2.3" fill="#880000"/><circle cx="383.9" cy="342.2" r="2.3" fill="#880000"/><circle cx="383.9" cy="345.9" r="2.3" fill="#f01000"/><circle cx="392.9" cy="339.1" r="2.3" fill="#880000"/><circle cx="393.8" cy="343.9" r="2.3" fill="#880000"/><circle cx="393.4" cy="345.9" r="2.3" fill="#880000"/><circle cx="406.6" cy="344.0" r="2.3" fill="#f01000"/><circle cx="368.8" cy="352.8" r="2.3" fill="#ff7a00"/><circle cx="373.5" cy="353.3" r="2.3" fill="#f01000"/><circle cx="375.9" cy="354.3" r="2.3" fill="#ffdc00"/><circle cx="386.7" cy="351.9" r="2.3" fill="#1080ff"/><circle cx="390.1" cy="353.1" r="2.3" fill="#1080ff"/><circle cx="392.4" cy="351.9" r="2.3" fill="#f01000"/><circle cx="394.5" cy="350.9" r="2.3" fill="#880000"/><circle cx="405.2" cy="350.5" r="2.3" fill="#90ff70"/><circle cx="404.7" cy="354.3" r="2.3" fill="#c8ff30"/><circle cx="404.7" cy="356.6" r="2.3" fill="#ffdc00"/><circle cx="414.2" cy="356.6" r="2.3" fill="#90ff70"/><circle cx="413.2" cy="359.7" r="2.3" fill="#0606a0"/><circle cx="410.4" cy="362.8" r="2.3" fill="#0018f0"/><circle cx="370.2" cy="359.7" r="2.3" fill="#880000"/><circle cx="382.0" cy="357.8" r="2.3" fill="#0606a0"/><circle cx="388.2" cy="359.7" r="2.3" fill="#2aeee8"/><circle cx="394.1" cy="359.7" r="2.3" fill="#f01000"/><circle cx="400.9" cy="362.8" r="2.3" fill="#ff7a00"/><circle cx="454.1" cy="352.6" r="2.3" fill="#0606a0"/><circle cx="452.6" cy="357.3" r="2.3" fill="#0606a0"/><circle cx="454.1" cy="359.5" r="2.3" fill="#1080ff"/><circle cx="435.2" cy="359.5" r="2.3" fill="#0606a0"/><circle cx="443.0" cy="366.5" r="2.3" fill="#c8ff30"/><circle cx="503.2" cy="361.4" r="2.3" fill="#2aeee8"/><circle cx="504.5" cy="363.2" r="2.3" fill="#0606a0"/><circle cx="506.0" cy="367.5" r="2.3" fill="#0606a0"/><circle cx="508.8" cy="367.5" r="2.3" fill="#0606a0"/><circle cx="496.4" cy="375.4" r="2.3" fill="#0606a0"/><circle cx="419.2" cy="372.1" r="2.3" fill="#2aeee8"/><circle cx="422.2" cy="373.0" r="2.3" fill="#2aeee8"/><circle cx="418.9" cy="375.4" r="2.3" fill="#c8ff30"/><circle cx="435.2" cy="372.5" r="2.3" fill="#0018f0"/><circle cx="436.5" cy="375.4" r="2.3" fill="#1080ff"/><circle cx="421.1" cy="385.1" r="2.3" fill="#0606a0"/><circle cx="422.2" cy="384.2" r="2.3" fill="#0606a0"/><circle cx="430.4" cy="382.9" r="2.3" fill="#0018f0"/><circle cx="435.5" cy="382.9" r="2.3" fill="#0018f0"/><circle cx="474.9" cy="386.6" r="2.3" fill="#0018f0"/><circle cx="513.8" cy="385.6" r="2.3" fill="#0018f0"/><circle cx="421.6" cy="390.7" r="2.3" fill="#0018f0"/><circle cx="424.8" cy="392.5" r="2.3" fill="#0606a0"/><circle cx="434.1" cy="390.1" r="2.3" fill="#0606a0"/><circle cx="441.5" cy="391.6" r="2.3" fill="#0018f0"/><circle cx="458.7" cy="390.7" r="2.3" fill="#0606a0"/><circle cx="487.5" cy="392.5" r="2.3" fill="#0606a0"/><circle cx="503.8" cy="393.1" r="2.3" fill="#1080ff"/><circle cx="429.6" cy="396.2" r="2.3" fill="#ffdc00"/><circle cx="437.0" cy="395.7" r="2.3" fill="#90ff70"/><circle cx="449.5" cy="395.7" r="2.3" fill="#2aeee8"/><circle cx="454.1" cy="396.2" r="2.3" fill="#2aeee8"/><circle cx="437.4" cy="402.2" r="2.3" fill="#0606a0"/><circle cx="445.7" cy="403.3" r="2.3" fill="#0606a0"/><circle cx="444.8" cy="405.5" r="2.3" fill="#0606a0"/><circle cx="421.6" cy="405.5" r="2.3" fill="#0018f0"/><circle cx="426.6" cy="405.5" r="2.3" fill="#0606a0"/><circle cx="454.1" cy="405.5" r="2.3" fill="#0018f0"/><circle cx="467.1" cy="405.5" r="2.3" fill="#0018f0"/><circle cx="469.3" cy="405.5" r="2.3" fill="#0018f0"/><circle cx="474.5" cy="403.3" r="2.3" fill="#0018f0"/><circle cx="504.2" cy="405.5" r="2.3" fill="#0018f0"/><circle cx="506.9" cy="405.5" r="2.3" fill="#0018f0"/><circle cx="513.8" cy="403.3" r="2.3" fill="#0018f0"/><circle cx="321.5" cy="366.1" r="2.3" fill="#0606a0"/><circle cx="338.2" cy="368.5" r="2.3" fill="#c8ff30"/><circle cx="350.6" cy="372.8" r="2.3" fill="#1080ff"/><circle cx="361.0" cy="372.8" r="2.3" fill="#0606a0"/><circle cx="361.0" cy="375.4" r="2.3" fill="#ffdc00"/><circle cx="367.3" cy="366.1" r="2.3" fill="#1080ff"/><circle cx="378.1" cy="368.5" r="2.3" fill="#2aeee8"/><circle cx="378.1" cy="371.6" r="2.3" fill="#0018f0"/><circle cx="390.1" cy="365.7" r="2.3" fill="#0606a0"/><circle cx="389.2" cy="374.6" r="2.3" fill="#0606a0"/><circle cx="370.3" cy="378.7" r="2.3" fill="#0018f0"/><circle cx="375.3" cy="378.7" r="2.3" fill="#0606a0"/><circle cx="375.8" cy="380.9" r="2.3" fill="#880000"/><circle cx="369.7" cy="381.5" r="2.3" fill="#2aeee8"/><circle cx="360.4" cy="382.0" r="2.3" fill="#2aeee8"/><circle cx="378.1" cy="383.9" r="2.3" fill="#2aeee8"/><circle cx="368.8" cy="385.7" r="2.3" fill="#ffdc00"/><circle cx="373.4" cy="386.1" r="2.3" fill="#f01000"/><circle cx="383.2" cy="386.5" r="2.3" fill="#0606a0"/><circle cx="390.7" cy="386.1" r="2.3" fill="#1080ff"/><circle cx="395.1" cy="383.3" r="2.3" fill="#0606a0"/><circle cx="369.7" cy="389.4" r="2.3" fill="#0606a0"/><circle cx="372.5" cy="391.7" r="2.3" fill="#f01000"/><circle cx="377.1" cy="389.4" r="2.3" fill="#c8ff30"/><circle cx="379.0" cy="392.0" r="2.3" fill="#ffdc00"/><circle cx="385.8" cy="390.7" r="2.3" fill="#0606a0"/><circle cx="389.6" cy="389.4" r="2.3" fill="#ffdc00"/><circle cx="399.4" cy="389.4" r="2.3" fill="#2aeee8"/><circle cx="405.9" cy="386.1" r="2.3" fill="#ffdc00"/><circle cx="408.7" cy="386.1" r="2.3" fill="#0606a0"/><circle cx="413.3" cy="386.1" r="2.3" fill="#0606a0"/><circle cx="410.5" cy="391.7" r="2.3" fill="#0606a0"/><circle cx="413.3" cy="389.8" r="2.3" fill="#0018f0"/><circle cx="389.2" cy="395.4" r="2.3" fill="#880000"/><circle cx="363.2" cy="395.8" r="2.3" fill="#0606a0"/><circle cx="321.5" cy="388.0" r="2.3" fill="#0606a0"/><circle cx="321.5" cy="390.7" r="2.3" fill="#0606a0"/><circle cx="339.1" cy="403.2" r="2.3" fill="#0606a0"/><circle cx="321.5" cy="405.6" r="2.3" fill="#0018f0"/><circle cx="351.2" cy="405.6" r="2.3" fill="#880000"/><circle cx="360.4" cy="405.6" r="2.3" fill="#0018f0"/><circle cx="368.8" cy="405.6" r="2.3" fill="#ff7a00"/><circle cx="370.6" cy="404.7" r="2.3" fill="#0606a0"/><circle cx="378.1" cy="405.6" r="2.3" fill="#2aeee8"/><circle cx="382.1" cy="405.6" r="2.3" fill="#2aeee8"/><circle cx="385.5" cy="405.6" r="2.3" fill="#ff7a00"/><circle cx="391.4" cy="405.6" r="2.3" fill="#ff7a00"/><circle cx="393.8" cy="405.0" r="2.3" fill="#0606a0"/><circle cx="396.2" cy="405.6" r="2.3" fill="#90ff70"/><circle cx="402.2" cy="403.7" r="2.3" fill="#0606a0"/><circle cx="405.9" cy="403.7" r="2.3" fill="#f01000"/><circle cx="407.4" cy="403.2" r="2.3" fill="#f01000"/><circle cx="405.9" cy="405.6" r="2.3" fill="#0606a0"/><circle cx="412.9" cy="405.0" r="2.3" fill="#0606a0"/></g>
<path d="M321.00 405.30h1.9M321.00 388.00h1.9M321.00 370.70h1.9M321.00 353.40h1.9M321.00 336.10h1.9M321.00 318.80h1.9M321.00 301.50h1.9M321.00 284.20h1.9M321.00 266.90h1.9M321.00 249.60h1.9M321.00 232.30h1.9M321.00 405.30v-1.9M369.25 405.30v-1.9M417.50 405.30v-1.9M465.75 405.30v-1.9M514.00 405.30v-1.9" stroke="#a6a6a6" stroke-width="0.8"/>
<text x="318.40" y="408.70" font-size="6.90" fill="#262626" text-anchor="end">-100</text>
<text x="318.40" y="391.31" font-size="6.90" fill="#262626" text-anchor="end">-80</text>
<text x="318.40" y="373.92" font-size="6.90" fill="#262626" text-anchor="end">-60</text>
<text x="318.40" y="356.53" font-size="6.90" fill="#262626" text-anchor="end">-40</text>
<text x="318.40" y="339.14" font-size="6.90" fill="#262626" text-anchor="end">-20</text>
<text x="318.40" y="321.75" font-size="6.90" fill="#262626" text-anchor="end">0</text>
<text x="318.40" y="304.36" font-size="6.90" fill="#262626" text-anchor="end">20</text>
<text x="318.40" y="286.97" font-size="6.90" fill="#262626" text-anchor="end">40</text>
<text x="318.40" y="269.58" font-size="6.90" fill="#262626" text-anchor="end">60</text>
<text x="318.40" y="252.19" font-size="6.90" fill="#262626" text-anchor="end">80</text>
<text x="318.40" y="234.80" font-size="6.90" fill="#262626" text-anchor="end">100</text>
<text x="321.00" y="415.60" font-size="6.90" fill="#262626" text-anchor="middle">-100</text>
<text x="369.25" y="415.60" font-size="6.90" fill="#262626" text-anchor="middle">-50</text>
<text x="417.50" y="415.60" font-size="6.90" fill="#262626" text-anchor="middle">0</text>
<text x="465.75" y="415.60" font-size="6.90" fill="#262626" text-anchor="middle">50</text>
<text x="514.00" y="415.60" font-size="6.90" fill="#262626" text-anchor="middle">100</text>
<text x="417.50" y="425.50" font-size="7.40" fill="#262626" text-anchor="middle">Dimension 1</text>
<text transform="translate(300.80 318.80) rotate(-90)" font-size="7.40" fill="#262626" text-anchor="middle">Dimension 2</text>
<text x="416.80" y="229.20" font-size="7.40" font-weight="bold" fill="#000" text-anchor="middle">F10 Search History in 2D</text>
<rect x="525.40" y="232.30" width="10.20" height="173.00" fill="url(#par)" stroke="#a6a6a6" stroke-width="0.6"/>
<path d="M535.60 405.30h-1.5M535.60 388.00h-1.5M535.60 370.70h-1.5M535.60 353.40h-1.5M535.60 336.10h-1.5M535.60 318.80h-1.5M535.60 301.50h-1.5M535.60 284.20h-1.5M535.60 266.90h-1.5M535.60 249.60h-1.5M535.60 232.30h-1.5" stroke="#555" stroke-width="0.6"/>
<text x="538.20" y="407.80" font-size="6.90" fill="#262626">0</text>
<text x="538.20" y="390.50" font-size="6.90" fill="#262626">0.1</text>
<text x="538.20" y="373.20" font-size="6.90" fill="#262626">0.2</text>
<text x="538.20" y="355.90" font-size="6.90" fill="#262626">0.3</text>
<text x="538.20" y="338.60" font-size="6.90" fill="#262626">0.4</text>
<text x="538.20" y="321.30" font-size="6.90" fill="#262626">0.5</text>
<text x="538.20" y="304.00" font-size="6.90" fill="#262626">0.6</text>
<text x="538.20" y="286.70" font-size="6.90" fill="#262626">0.7</text>
<text x="538.20" y="269.40" font-size="6.90" fill="#262626">0.8</text>
<text x="538.20" y="252.10" font-size="6.90" fill="#262626">0.9</text>
<text x="538.20" y="234.80" font-size="6.90" fill="#262626">1</text>
</svg></body></html>
